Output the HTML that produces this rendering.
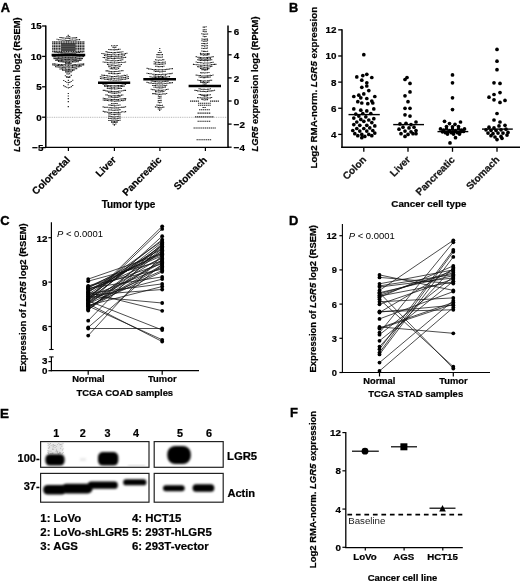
<!DOCTYPE html>
<html><head><meta charset="utf-8"><title>Figure</title>
<style>html,body{margin:0;padding:0;background:#fff}svg{display:block;font-family:"Liberation Sans", Arial, sans-serif}text{stroke:#000;stroke-width:.22px}</style>
</head><body>
<svg width="520" height="585" viewBox="0 0 520 585">
<rect width="520" height="585" fill="#fff"/>
<text x="0.7" y="12.3" font-size="12.8" font-weight="bold" text-anchor="start" fill="#000" style="stroke-width:.4px">A</text>
<text x="289.1" y="12.3" font-size="12.8" font-weight="bold" text-anchor="start" fill="#000" style="stroke-width:.4px">B</text>
<text x="0.2" y="224.5" font-size="12.9" font-weight="bold" text-anchor="start" fill="#000" style="stroke-width:.4px">C</text>
<text x="289.1" y="224.5" font-size="12.9" font-weight="bold" text-anchor="start" fill="#000" style="stroke-width:.4px">D</text>
<text x="0.1" y="418.3" font-size="13.4" font-weight="bold" text-anchor="start" fill="#000" style="stroke-width:.4px">E</text>
<text x="289.9" y="416.5" font-size="13" font-weight="bold" text-anchor="start" fill="#000" style="stroke-width:.4px">F</text>
<line x1="45.8" y1="25.4" x2="45.8" y2="147.9" stroke="#000" stroke-width="1.5"/>
<line x1="45.05" y1="147.4" x2="228.75" y2="147.4" stroke="#000" stroke-width="1.4"/>
<line x1="228.0" y1="25.4" x2="228.0" y2="147.9" stroke="#000" stroke-width="1.5"/>
<line x1="42.099999999999994" y1="26.0" x2="45.8" y2="26.0" stroke="#000" stroke-width="1.3"/>
<text x="41.599999999999994" y="29.4" font-size="9.8" font-weight="bold" text-anchor="end" fill="#000">15</text>
<line x1="42.099999999999994" y1="56.400000000000006" x2="45.8" y2="56.400000000000006" stroke="#000" stroke-width="1.3"/>
<text x="41.599999999999994" y="59.8" font-size="9.8" font-weight="bold" text-anchor="end" fill="#000">10</text>
<line x1="42.099999999999994" y1="86.80000000000001" x2="45.8" y2="86.80000000000001" stroke="#000" stroke-width="1.3"/>
<text x="41.599999999999994" y="90.2" font-size="9.8" font-weight="bold" text-anchor="end" fill="#000">5</text>
<line x1="42.099999999999994" y1="117.2" x2="45.8" y2="117.2" stroke="#000" stroke-width="1.3"/>
<text x="41.599999999999994" y="120.6" font-size="9.8" font-weight="bold" text-anchor="end" fill="#000">0</text>
<line x1="42.099999999999994" y1="147.6" x2="45.8" y2="147.6" stroke="#000" stroke-width="1.3"/>
<text x="43.39999999999999" y="151.0" font-size="9.8" font-weight="bold" text-anchor="end" fill="#000">−5</text>
<line x1="228.0" y1="31.69999999999999" x2="231.6" y2="31.69999999999999" stroke="#000" stroke-width="1.3"/>
<text x="233.8" y="35.4" font-size="9.8" font-weight="bold" text-anchor="start" fill="#000">6</text>
<line x1="228.0" y1="54.8" x2="231.6" y2="54.8" stroke="#000" stroke-width="1.3"/>
<text x="233.8" y="58.5" font-size="9.8" font-weight="bold" text-anchor="start" fill="#000">4</text>
<line x1="228.0" y1="77.9" x2="231.6" y2="77.9" stroke="#000" stroke-width="1.3"/>
<text x="233.8" y="81.6" font-size="9.8" font-weight="bold" text-anchor="start" fill="#000">2</text>
<line x1="228.0" y1="101.0" x2="231.6" y2="101.0" stroke="#000" stroke-width="1.3"/>
<text x="233.8" y="104.7" font-size="9.8" font-weight="bold" text-anchor="start" fill="#000">0</text>
<line x1="228.0" y1="124.1" x2="231.6" y2="124.1" stroke="#000" stroke-width="1.3"/>
<text x="233.8" y="127.8" font-size="9.8" font-weight="bold" text-anchor="start" fill="#000">−2</text>
<line x1="228.0" y1="147.2" x2="231.6" y2="147.2" stroke="#000" stroke-width="1.3"/>
<text x="233.8" y="150.9" font-size="9.8" font-weight="bold" text-anchor="start" fill="#000">−4</text>
<line x1="46.8" y1="117.3" x2="227.0" y2="117.3" stroke="#999" stroke-width="0.7" stroke-dasharray="1 0.8"/>
<line x1="68.4" y1="147.4" x2="68.4" y2="151.0" stroke="#000" stroke-width="1.2"/>
<line x1="114.4" y1="147.4" x2="114.4" y2="151.0" stroke="#000" stroke-width="1.2"/>
<line x1="159.9" y1="147.4" x2="159.9" y2="151.0" stroke="#000" stroke-width="1.2"/>
<line x1="205.4" y1="147.4" x2="205.4" y2="151.0" stroke="#000" stroke-width="1.2"/>
<text x="70.7" y="160.6" font-size="10" font-weight="bold" text-anchor="end" fill="#000" transform="rotate(-45 70.7 160.6)">Colorectal</text>
<text x="116.7" y="160.6" font-size="10" font-weight="bold" text-anchor="end" fill="#000" transform="rotate(-45 116.7 160.6)">Liver</text>
<text x="162.2" y="160.6" font-size="10" font-weight="bold" text-anchor="end" fill="#000" transform="rotate(-45 162.2 160.6)">Pancreatic</text>
<text x="207.7" y="160.6" font-size="10" font-weight="bold" text-anchor="end" fill="#000" transform="rotate(-45 207.7 160.6)">Stomach</text>
<text x="128.5" y="208.4" font-size="10" font-weight="bold" text-anchor="middle" fill="#000">Tumor type</text>
<text x="20.5" y="84.7" font-size="9.36" font-weight="bold" text-anchor="middle" transform="rotate(-90 20.5 84.7)"><tspan font-style="italic">LGR5</tspan> expression log2 (RSEM)</text>
<text x="258" y="84" font-size="9.35" font-weight="bold" text-anchor="middle" transform="rotate(-90 258 84)"><tspan font-style="italic">LGR5</tspan> expression log2 (RPKM)</text>
<path d="M52.19 41.17h1.25v1.25h-1.25zM53.91 41.17h1.25v1.25h-1.25zM55.63 41.17h1.25v1.25h-1.25zM57.35 41.17h1.25v1.25h-1.25zM59.07 41.17h1.25v1.25h-1.25zM60.79 41.17h1.25v1.25h-1.25zM62.52 41.17h1.25v1.25h-1.25zM64.23 41.17h1.25v1.25h-1.25zM65.95 41.17h1.25v1.25h-1.25zM67.67 41.17h1.25v1.25h-1.25zM69.39 41.17h1.25v1.25h-1.25zM71.11 41.17h1.25v1.25h-1.25zM72.83 41.17h1.25v1.25h-1.25zM74.55 41.17h1.25v1.25h-1.25zM76.27 41.17h1.25v1.25h-1.25zM78.00 41.17h1.25v1.25h-1.25zM79.72 41.17h1.25v1.25h-1.25zM81.44 41.17h1.25v1.25h-1.25zM83.16 41.17h1.25v1.25h-1.25zM52.19 42.79h1.25v1.25h-1.25zM53.91 42.79h1.25v1.25h-1.25zM55.63 42.79h1.25v1.25h-1.25zM57.35 42.79h1.25v1.25h-1.25zM59.07 42.79h1.25v1.25h-1.25zM60.79 42.79h1.25v1.25h-1.25zM62.52 42.79h1.25v1.25h-1.25zM64.23 42.79h1.25v1.25h-1.25zM65.95 42.79h1.25v1.25h-1.25zM67.67 42.79h1.25v1.25h-1.25zM69.39 42.79h1.25v1.25h-1.25zM71.11 42.79h1.25v1.25h-1.25zM72.83 42.79h1.25v1.25h-1.25zM74.55 42.79h1.25v1.25h-1.25zM76.27 42.79h1.25v1.25h-1.25zM78.00 42.79h1.25v1.25h-1.25zM79.72 42.79h1.25v1.25h-1.25zM81.44 42.79h1.25v1.25h-1.25zM83.16 42.79h1.25v1.25h-1.25zM52.19 44.41h1.25v1.25h-1.25zM53.91 44.41h1.25v1.25h-1.25zM55.63 44.41h1.25v1.25h-1.25zM57.35 44.41h1.25v1.25h-1.25zM59.07 44.41h1.25v1.25h-1.25zM60.79 44.41h1.25v1.25h-1.25zM62.52 44.41h1.25v1.25h-1.25zM64.23 44.41h1.25v1.25h-1.25zM65.95 44.41h1.25v1.25h-1.25zM67.67 44.41h1.25v1.25h-1.25zM69.39 44.41h1.25v1.25h-1.25zM71.11 44.41h1.25v1.25h-1.25zM72.83 44.41h1.25v1.25h-1.25zM74.55 44.41h1.25v1.25h-1.25zM76.27 44.41h1.25v1.25h-1.25zM78.00 44.41h1.25v1.25h-1.25zM79.72 44.41h1.25v1.25h-1.25zM81.44 44.41h1.25v1.25h-1.25zM83.16 44.41h1.25v1.25h-1.25zM52.19 46.03h1.25v1.25h-1.25zM53.91 46.03h1.25v1.25h-1.25zM55.63 46.03h1.25v1.25h-1.25zM57.35 46.03h1.25v1.25h-1.25zM59.07 46.03h1.25v1.25h-1.25zM60.79 46.03h1.25v1.25h-1.25zM62.52 46.03h1.25v1.25h-1.25zM64.23 46.03h1.25v1.25h-1.25zM65.95 46.03h1.25v1.25h-1.25zM67.67 46.03h1.25v1.25h-1.25zM69.39 46.03h1.25v1.25h-1.25zM71.11 46.03h1.25v1.25h-1.25zM72.83 46.03h1.25v1.25h-1.25zM74.55 46.03h1.25v1.25h-1.25zM76.27 46.03h1.25v1.25h-1.25zM78.00 46.03h1.25v1.25h-1.25zM79.72 46.03h1.25v1.25h-1.25zM81.44 46.03h1.25v1.25h-1.25zM83.16 46.03h1.25v1.25h-1.25zM52.19 47.65h1.25v1.25h-1.25zM53.91 47.65h1.25v1.25h-1.25zM55.63 47.65h1.25v1.25h-1.25zM57.35 47.65h1.25v1.25h-1.25zM59.07 47.65h1.25v1.25h-1.25zM60.79 47.65h1.25v1.25h-1.25zM62.52 47.65h1.25v1.25h-1.25zM64.23 47.65h1.25v1.25h-1.25zM65.95 47.65h1.25v1.25h-1.25zM67.67 47.65h1.25v1.25h-1.25zM69.39 47.65h1.25v1.25h-1.25zM71.11 47.65h1.25v1.25h-1.25zM72.83 47.65h1.25v1.25h-1.25zM74.55 47.65h1.25v1.25h-1.25zM76.27 47.65h1.25v1.25h-1.25zM78.00 47.65h1.25v1.25h-1.25zM79.72 47.65h1.25v1.25h-1.25zM81.44 47.65h1.25v1.25h-1.25zM83.16 47.65h1.25v1.25h-1.25zM52.19 49.27h1.25v1.25h-1.25zM53.91 49.27h1.25v1.25h-1.25zM55.63 49.27h1.25v1.25h-1.25zM57.35 49.27h1.25v1.25h-1.25zM59.07 49.27h1.25v1.25h-1.25zM60.79 49.27h1.25v1.25h-1.25zM62.52 49.27h1.25v1.25h-1.25zM64.23 49.27h1.25v1.25h-1.25zM65.95 49.27h1.25v1.25h-1.25zM67.67 49.27h1.25v1.25h-1.25zM69.39 49.27h1.25v1.25h-1.25zM71.11 49.27h1.25v1.25h-1.25zM72.83 49.27h1.25v1.25h-1.25zM74.55 49.27h1.25v1.25h-1.25zM76.27 49.27h1.25v1.25h-1.25zM78.00 49.27h1.25v1.25h-1.25zM79.72 49.27h1.25v1.25h-1.25zM81.44 49.27h1.25v1.25h-1.25zM83.16 49.27h1.25v1.25h-1.25zM52.19 50.89h1.25v1.25h-1.25zM53.91 50.89h1.25v1.25h-1.25zM55.63 50.89h1.25v1.25h-1.25zM57.35 50.89h1.25v1.25h-1.25zM59.07 50.89h1.25v1.25h-1.25zM60.79 50.89h1.25v1.25h-1.25zM62.52 50.89h1.25v1.25h-1.25zM64.23 50.89h1.25v1.25h-1.25zM65.95 50.89h1.25v1.25h-1.25zM67.67 50.89h1.25v1.25h-1.25zM69.39 50.89h1.25v1.25h-1.25zM71.11 50.89h1.25v1.25h-1.25zM72.83 50.89h1.25v1.25h-1.25zM74.55 50.89h1.25v1.25h-1.25zM76.27 50.89h1.25v1.25h-1.25zM78.00 50.89h1.25v1.25h-1.25zM79.72 50.89h1.25v1.25h-1.25zM81.44 50.89h1.25v1.25h-1.25zM83.16 50.89h1.25v1.25h-1.25z" fill="#222" fill-opacity="1"/>
<rect x="61" y="43.2" width="14.4" height="7.8" fill="#333"/>
<path d="M61 44.9h14.4M61 46.6h14.4M61 48.3h14.4M61 50h14.4" stroke="#888" stroke-width="0.45"/>
<path d="M60.5 53.2h15.5M53 57h30.5M53.5 58.6h29.5M55 60.3h26.5" stroke="#111" stroke-width="1.1" stroke-opacity="0.55"/>
<path d="M67.68 34.80h1.1v1.1h-1.1zM66.26 36.22h1.1v1.1h-1.1zM67.72 36.34h1.1v1.1h-1.1zM69.15 35.99h1.1v1.1h-1.1zM59.34 36.91h1.1v1.1h-1.1zM60.67 37.09h1.1v1.1h-1.1zM62.22 37.37h1.1v1.1h-1.1zM63.49 37.38h1.1v1.1h-1.1zM65.04 37.68h1.1v1.1h-1.1zM66.33 37.73h1.1v1.1h-1.1zM67.66 37.93h1.1v1.1h-1.1zM69.11 37.84h1.1v1.1h-1.1zM70.47 37.49h1.1v1.1h-1.1zM72.01 37.45h1.1v1.1h-1.1zM73.37 37.28h1.1v1.1h-1.1zM74.72 37.32h1.1v1.1h-1.1zM76.06 37.12h1.1v1.1h-1.1zM56.49 38.77h1.1v1.1h-1.1zM57.94 39.19h1.1v1.1h-1.1zM59.37 39.21h1.1v1.1h-1.1zM60.71 39.41h1.1v1.1h-1.1zM62.19 39.68h1.1v1.1h-1.1zM63.56 39.57h1.1v1.1h-1.1zM65.03 39.77h1.1v1.1h-1.1zM66.31 39.92h1.1v1.1h-1.1zM67.67 40.06h1.1v1.1h-1.1zM69.20 39.80h1.1v1.1h-1.1zM70.55 39.62h1.1v1.1h-1.1zM71.98 39.49h1.1v1.1h-1.1zM73.36 39.67h1.1v1.1h-1.1zM74.71 39.58h1.1v1.1h-1.1zM76.17 39.36h1.1v1.1h-1.1zM77.54 39.15h1.1v1.1h-1.1zM79.04 39.08h1.1v1.1h-1.1zM53.78 51.52h1.1v1.1h-1.1zM55.19 51.53h1.1v1.1h-1.1zM56.65 51.93h1.1v1.1h-1.1zM57.91 52.15h1.1v1.1h-1.1zM59.38 52.11h1.1v1.1h-1.1zM60.74 52.09h1.1v1.1h-1.1zM62.07 52.26h1.1v1.1h-1.1zM63.60 52.31h1.1v1.1h-1.1zM64.90 52.42h1.1v1.1h-1.1zM66.42 52.58h1.1v1.1h-1.1zM67.74 52.49h1.1v1.1h-1.1zM69.23 52.65h1.1v1.1h-1.1zM70.62 52.70h1.1v1.1h-1.1zM71.93 52.40h1.1v1.1h-1.1zM73.43 52.34h1.1v1.1h-1.1zM74.68 52.47h1.1v1.1h-1.1zM76.10 52.03h1.1v1.1h-1.1zM77.55 51.91h1.1v1.1h-1.1zM78.90 51.91h1.1v1.1h-1.1zM80.33 51.51h1.1v1.1h-1.1zM81.76 51.48h1.1v1.1h-1.1zM52.39 55.97h1.1v1.1h-1.1zM53.77 55.97h1.1v1.1h-1.1zM55.06 56.19h1.1v1.1h-1.1zM56.61 56.43h1.1v1.1h-1.1zM58.01 56.56h1.1v1.1h-1.1zM59.33 56.49h1.1v1.1h-1.1zM60.78 56.49h1.1v1.1h-1.1zM62.06 56.58h1.1v1.1h-1.1zM63.48 56.72h1.1v1.1h-1.1zM64.86 56.85h1.1v1.1h-1.1zM66.28 56.76h1.1v1.1h-1.1zM67.72 56.83h1.1v1.1h-1.1zM69.22 56.77h1.1v1.1h-1.1zM70.48 56.96h1.1v1.1h-1.1zM71.92 56.74h1.1v1.1h-1.1zM73.27 56.70h1.1v1.1h-1.1zM74.85 56.79h1.1v1.1h-1.1zM76.15 56.52h1.1v1.1h-1.1zM77.47 56.24h1.1v1.1h-1.1zM78.90 56.21h1.1v1.1h-1.1zM80.28 56.25h1.1v1.1h-1.1zM81.84 55.77h1.1v1.1h-1.1zM83.08 55.80h1.1v1.1h-1.1zM53.66 57.83h1.1v1.1h-1.1zM55.25 58.00h1.1v1.1h-1.1zM56.59 58.31h1.1v1.1h-1.1zM57.92 58.22h1.1v1.1h-1.1zM59.40 58.33h1.1v1.1h-1.1zM60.81 58.60h1.1v1.1h-1.1zM62.09 58.64h1.1v1.1h-1.1zM63.65 58.93h1.1v1.1h-1.1zM65.01 59.02h1.1v1.1h-1.1zM66.40 59.07h1.1v1.1h-1.1zM67.75 58.86h1.1v1.1h-1.1zM69.06 58.89h1.1v1.1h-1.1zM70.51 58.69h1.1v1.1h-1.1zM71.99 58.71h1.1v1.1h-1.1zM73.34 58.89h1.1v1.1h-1.1zM74.85 58.76h1.1v1.1h-1.1zM76.12 58.64h1.1v1.1h-1.1zM77.50 58.20h1.1v1.1h-1.1zM78.89 58.04h1.1v1.1h-1.1zM80.43 58.04h1.1v1.1h-1.1zM81.75 57.95h1.1v1.1h-1.1zM55.21 59.64h1.1v1.1h-1.1zM56.58 59.59h1.1v1.1h-1.1zM58.01 60.09h1.1v1.1h-1.1zM59.35 60.17h1.1v1.1h-1.1zM60.81 60.08h1.1v1.1h-1.1zM62.21 60.27h1.1v1.1h-1.1zM63.53 60.63h1.1v1.1h-1.1zM65.04 60.48h1.1v1.1h-1.1zM66.28 60.68h1.1v1.1h-1.1zM67.68 60.47h1.1v1.1h-1.1zM69.21 60.75h1.1v1.1h-1.1zM70.62 60.38h1.1v1.1h-1.1zM71.98 60.63h1.1v1.1h-1.1zM73.36 60.27h1.1v1.1h-1.1zM74.65 60.06h1.1v1.1h-1.1zM76.18 60.26h1.1v1.1h-1.1zM77.64 59.93h1.1v1.1h-1.1zM79.02 59.73h1.1v1.1h-1.1zM80.29 59.71h1.1v1.1h-1.1zM57.91 60.91h1.1v1.1h-1.1zM59.37 61.08h1.1v1.1h-1.1zM60.73 61.25h1.1v1.1h-1.1zM62.23 61.34h1.1v1.1h-1.1zM63.54 61.55h1.1v1.1h-1.1zM65.03 61.74h1.1v1.1h-1.1zM66.43 61.74h1.1v1.1h-1.1zM67.76 61.81h1.1v1.1h-1.1zM69.05 61.78h1.1v1.1h-1.1zM70.49 61.68h1.1v1.1h-1.1zM72.01 61.41h1.1v1.1h-1.1zM73.34 61.35h1.1v1.1h-1.1zM74.76 61.43h1.1v1.1h-1.1zM76.15 61.12h1.1v1.1h-1.1zM77.61 61.03h1.1v1.1h-1.1zM64.96 62.56h1.1v1.1h-1.1zM66.31 62.78h1.1v1.1h-1.1zM67.75 63.07h1.1v1.1h-1.1zM69.20 62.90h1.1v1.1h-1.1zM70.54 62.88h1.1v1.1h-1.1zM52.35 63.24h1.1v1.1h-1.1zM53.79 63.36h1.1v1.1h-1.1zM55.16 63.50h1.1v1.1h-1.1zM56.64 63.66h1.1v1.1h-1.1zM58.03 63.89h1.1v1.1h-1.1zM59.30 64.11h1.1v1.1h-1.1zM60.84 64.07h1.1v1.1h-1.1zM62.08 64.29h1.1v1.1h-1.1zM63.54 64.09h1.1v1.1h-1.1zM64.90 64.14h1.1v1.1h-1.1zM66.38 64.19h1.1v1.1h-1.1zM67.83 64.50h1.1v1.1h-1.1zM69.19 64.23h1.1v1.1h-1.1zM70.48 64.38h1.1v1.1h-1.1zM72.04 64.39h1.1v1.1h-1.1zM73.44 64.04h1.1v1.1h-1.1zM74.75 64.01h1.1v1.1h-1.1zM76.22 64.13h1.1v1.1h-1.1zM77.54 63.67h1.1v1.1h-1.1zM78.92 63.68h1.1v1.1h-1.1zM80.31 63.40h1.1v1.1h-1.1zM81.65 63.45h1.1v1.1h-1.1zM83.14 63.21h1.1v1.1h-1.1zM52.32 64.30h1.1v1.1h-1.1zM53.75 64.71h1.1v1.1h-1.1zM55.25 64.65h1.1v1.1h-1.1zM56.64 65.08h1.1v1.1h-1.1zM57.90 64.95h1.1v1.1h-1.1zM59.41 65.05h1.1v1.1h-1.1zM60.68 65.26h1.1v1.1h-1.1zM62.23 65.42h1.1v1.1h-1.1zM63.50 65.67h1.1v1.1h-1.1zM65.03 65.47h1.1v1.1h-1.1zM66.39 65.69h1.1v1.1h-1.1zM67.66 65.53h1.1v1.1h-1.1zM69.14 65.74h1.1v1.1h-1.1zM70.64 65.44h1.1v1.1h-1.1zM72.01 65.59h1.1v1.1h-1.1zM73.42 65.29h1.1v1.1h-1.1zM74.82 65.18h1.1v1.1h-1.1zM76.12 65.22h1.1v1.1h-1.1zM77.64 65.13h1.1v1.1h-1.1zM78.88 64.88h1.1v1.1h-1.1zM80.30 64.83h1.1v1.1h-1.1zM81.68 64.50h1.1v1.1h-1.1zM83.09 64.31h1.1v1.1h-1.1zM55.11 66.10h1.1v1.1h-1.1zM56.51 66.46h1.1v1.1h-1.1zM57.89 66.52h1.1v1.1h-1.1zM59.25 66.61h1.1v1.1h-1.1zM60.65 66.71h1.1v1.1h-1.1zM62.16 67.03h1.1v1.1h-1.1zM63.54 66.91h1.1v1.1h-1.1zM64.87 67.30h1.1v1.1h-1.1zM66.34 67.31h1.1v1.1h-1.1zM67.82 67.22h1.1v1.1h-1.1zM69.15 67.14h1.1v1.1h-1.1zM70.65 67.20h1.1v1.1h-1.1zM72.02 66.98h1.1v1.1h-1.1zM73.38 67.02h1.1v1.1h-1.1zM74.72 66.77h1.1v1.1h-1.1zM76.08 66.50h1.1v1.1h-1.1zM77.60 66.35h1.1v1.1h-1.1zM78.88 66.26h1.1v1.1h-1.1zM80.42 66.01h1.1v1.1h-1.1zM59.38 68.40h1.1v1.1h-1.1zM60.70 68.35h1.1v1.1h-1.1zM62.14 68.51h1.1v1.1h-1.1zM63.54 68.60h1.1v1.1h-1.1zM65.04 68.76h1.1v1.1h-1.1zM66.36 69.12h1.1v1.1h-1.1zM67.84 68.87h1.1v1.1h-1.1zM69.12 68.86h1.1v1.1h-1.1zM70.53 68.65h1.1v1.1h-1.1zM71.95 68.73h1.1v1.1h-1.1zM73.35 68.48h1.1v1.1h-1.1zM74.70 68.24h1.1v1.1h-1.1zM76.13 68.09h1.1v1.1h-1.1zM62.05 69.60h1.1v1.1h-1.1zM63.50 69.88h1.1v1.1h-1.1zM64.96 70.14h1.1v1.1h-1.1zM66.38 70.31h1.1v1.1h-1.1zM67.83 70.35h1.1v1.1h-1.1zM69.12 70.17h1.1v1.1h-1.1zM70.48 70.30h1.1v1.1h-1.1zM71.98 70.05h1.1v1.1h-1.1zM73.42 69.60h1.1v1.1h-1.1zM64.98 71.45h1.1v1.1h-1.1zM66.41 71.58h1.1v1.1h-1.1zM67.75 71.43h1.1v1.1h-1.1zM69.22 71.49h1.1v1.1h-1.1zM70.62 71.42h1.1v1.1h-1.1zM66.43 73.34h1.1v1.1h-1.1zM67.79 73.46h1.1v1.1h-1.1zM69.06 73.20h1.1v1.1h-1.1zM66.32 76.84h1.1v1.1h-1.1zM67.82 76.95h1.1v1.1h-1.1zM69.18 77.01h1.1v1.1h-1.1zM67.79 79.82h1.1v1.1h-1.1zM67.65 84.17h1.1v1.1h-1.1z" fill="#1c1c1c" fill-opacity="1"/>
<path d="M64.80 75.13h1.1v1.1h-1.1zM66.26 75.91h1.1v1.1h-1.1zM67.66 76.42h1.1v1.1h-1.1zM69.20 76.01h1.1v1.1h-1.1zM70.70 74.84h1.1v1.1h-1.1zM63.19 79.90h1.1v1.1h-1.1zM64.85 80.98h1.1v1.1h-1.1zM66.23 81.67h1.1v1.1h-1.1zM67.79 82.05h1.1v1.1h-1.1zM69.27 81.78h1.1v1.1h-1.1zM70.67 80.94h1.1v1.1h-1.1zM72.20 79.67h1.1v1.1h-1.1zM63.21 85.11h1.1v1.1h-1.1zM64.65 86.11h1.1v1.1h-1.1zM66.20 86.70h1.1v1.1h-1.1zM67.79 87.33h1.1v1.1h-1.1zM69.21 86.94h1.1v1.1h-1.1zM70.74 86.09h1.1v1.1h-1.1zM72.17 85.00h1.1v1.1h-1.1z" fill="#1c1c1c" fill-opacity="1"/>
<path d="M67.70 92.90h1.2v1.2h-1.2zM67.70 95.40h1.2v1.2h-1.2zM67.70 98.00h1.2v1.2h-1.2zM67.70 101.10h1.2v1.2h-1.2zM67.70 106.10h1.2v1.2h-1.2z" fill="#1c1c1c" fill-opacity="1"/>
<line x1="51.6" y1="55.0" x2="85.2" y2="55.0" stroke="#000" stroke-width="2.5"/>
<path d="M110.99 45.20h1.1v1.1h-1.1zM112.54 45.49h1.1v1.1h-1.1zM113.84 45.23h1.1v1.1h-1.1zM115.34 45.42h1.1v1.1h-1.1zM116.60 45.02h1.1v1.1h-1.1zM112.54 46.91h1.1v1.1h-1.1zM113.87 47.13h1.1v1.1h-1.1zM115.25 46.89h1.1v1.1h-1.1zM108.18 48.93h1.1v1.1h-1.1zM109.65 49.08h1.1v1.1h-1.1zM111.09 49.27h1.1v1.1h-1.1zM112.53 49.13h1.1v1.1h-1.1zM113.75 49.29h1.1v1.1h-1.1zM115.25 49.04h1.1v1.1h-1.1zM116.61 49.10h1.1v1.1h-1.1zM118.02 48.81h1.1v1.1h-1.1zM119.52 48.67h1.1v1.1h-1.1zM105.50 51.04h1.1v1.1h-1.1zM106.77 51.61h1.1v1.1h-1.1zM108.29 51.85h1.1v1.1h-1.1zM109.61 52.02h1.1v1.1h-1.1zM111.03 51.96h1.1v1.1h-1.1zM112.47 52.32h1.1v1.1h-1.1zM113.84 52.12h1.1v1.1h-1.1zM115.16 52.03h1.1v1.1h-1.1zM116.72 51.85h1.1v1.1h-1.1zM118.14 51.78h1.1v1.1h-1.1zM119.40 51.58h1.1v1.1h-1.1zM120.79 51.48h1.1v1.1h-1.1zM122.34 51.19h1.1v1.1h-1.1zM101.31 53.02h1.1v1.1h-1.1zM102.73 53.16h1.1v1.1h-1.1zM104.06 53.51h1.1v1.1h-1.1zM105.36 53.63h1.1v1.1h-1.1zM106.84 53.83h1.1v1.1h-1.1zM108.28 54.00h1.1v1.1h-1.1zM109.56 53.96h1.1v1.1h-1.1zM110.98 54.34h1.1v1.1h-1.1zM112.42 54.24h1.1v1.1h-1.1zM113.90 54.21h1.1v1.1h-1.1zM115.20 54.44h1.1v1.1h-1.1zM116.61 54.23h1.1v1.1h-1.1zM118.03 54.07h1.1v1.1h-1.1zM119.38 53.77h1.1v1.1h-1.1zM120.93 53.62h1.1v1.1h-1.1zM122.19 53.54h1.1v1.1h-1.1zM123.75 53.50h1.1v1.1h-1.1zM124.98 53.09h1.1v1.1h-1.1zM126.37 52.74h1.1v1.1h-1.1zM103.97 54.98h1.1v1.1h-1.1zM105.40 55.18h1.1v1.1h-1.1zM106.93 55.53h1.1v1.1h-1.1zM108.23 55.80h1.1v1.1h-1.1zM109.65 55.83h1.1v1.1h-1.1zM111.02 55.95h1.1v1.1h-1.1zM112.41 55.92h1.1v1.1h-1.1zM113.78 56.33h1.1v1.1h-1.1zM115.28 56.10h1.1v1.1h-1.1zM116.59 56.14h1.1v1.1h-1.1zM118.00 55.77h1.1v1.1h-1.1zM119.44 55.66h1.1v1.1h-1.1zM120.92 55.68h1.1v1.1h-1.1zM122.15 55.43h1.1v1.1h-1.1zM123.69 54.86h1.1v1.1h-1.1zM102.64 56.97h1.1v1.1h-1.1zM103.95 57.07h1.1v1.1h-1.1zM105.54 57.20h1.1v1.1h-1.1zM106.92 57.56h1.1v1.1h-1.1zM108.20 57.78h1.1v1.1h-1.1zM109.58 57.57h1.1v1.1h-1.1zM111.09 57.85h1.1v1.1h-1.1zM112.49 58.10h1.1v1.1h-1.1zM113.90 58.03h1.1v1.1h-1.1zM115.26 57.91h1.1v1.1h-1.1zM116.71 57.66h1.1v1.1h-1.1zM118.13 57.62h1.1v1.1h-1.1zM119.41 57.65h1.1v1.1h-1.1zM120.80 57.28h1.1v1.1h-1.1zM122.29 57.30h1.1v1.1h-1.1zM123.56 56.88h1.1v1.1h-1.1zM125.07 56.82h1.1v1.1h-1.1zM105.39 59.29h1.1v1.1h-1.1zM106.75 59.61h1.1v1.1h-1.1zM108.24 59.70h1.1v1.1h-1.1zM109.68 60.15h1.1v1.1h-1.1zM111.05 60.26h1.1v1.1h-1.1zM112.40 60.11h1.1v1.1h-1.1zM113.89 60.45h1.1v1.1h-1.1zM115.15 60.14h1.1v1.1h-1.1zM116.68 60.11h1.1v1.1h-1.1zM118.00 59.93h1.1v1.1h-1.1zM119.54 59.85h1.1v1.1h-1.1zM120.76 59.46h1.1v1.1h-1.1zM122.23 59.27h1.1v1.1h-1.1zM102.59 61.39h1.1v1.1h-1.1zM104.10 61.66h1.1v1.1h-1.1zM105.39 61.74h1.1v1.1h-1.1zM106.81 62.11h1.1v1.1h-1.1zM108.20 62.22h1.1v1.1h-1.1zM109.70 62.12h1.1v1.1h-1.1zM111.14 62.26h1.1v1.1h-1.1zM112.39 62.43h1.1v1.1h-1.1zM113.83 62.36h1.1v1.1h-1.1zM115.34 62.49h1.1v1.1h-1.1zM116.63 62.20h1.1v1.1h-1.1zM118.14 62.11h1.1v1.1h-1.1zM119.36 61.95h1.1v1.1h-1.1zM120.83 61.75h1.1v1.1h-1.1zM122.33 61.90h1.1v1.1h-1.1zM123.75 61.63h1.1v1.1h-1.1zM125.02 61.49h1.1v1.1h-1.1zM106.94 63.93h1.1v1.1h-1.1zM108.16 64.37h1.1v1.1h-1.1zM109.63 64.52h1.1v1.1h-1.1zM111.02 64.56h1.1v1.1h-1.1zM112.35 64.59h1.1v1.1h-1.1zM113.82 64.68h1.1v1.1h-1.1zM115.17 64.90h1.1v1.1h-1.1zM116.59 64.79h1.1v1.1h-1.1zM118.11 64.40h1.1v1.1h-1.1zM119.44 64.40h1.1v1.1h-1.1zM120.84 63.88h1.1v1.1h-1.1zM108.33 66.04h1.1v1.1h-1.1zM109.62 66.21h1.1v1.1h-1.1zM110.96 66.69h1.1v1.1h-1.1zM112.51 66.64h1.1v1.1h-1.1zM113.76 66.85h1.1v1.1h-1.1zM115.16 66.49h1.1v1.1h-1.1zM116.60 66.70h1.1v1.1h-1.1zM118.13 66.43h1.1v1.1h-1.1zM119.40 66.02h1.1v1.1h-1.1zM109.67 68.19h1.1v1.1h-1.1zM111.09 68.12h1.1v1.1h-1.1zM112.41 68.30h1.1v1.1h-1.1zM113.90 68.25h1.1v1.1h-1.1zM115.28 68.54h1.1v1.1h-1.1zM116.55 68.40h1.1v1.1h-1.1zM118.05 67.90h1.1v1.1h-1.1zM105.54 70.32h1.1v1.1h-1.1zM106.80 70.33h1.1v1.1h-1.1zM108.25 70.55h1.1v1.1h-1.1zM109.59 70.93h1.1v1.1h-1.1zM111.10 71.03h1.1v1.1h-1.1zM112.50 71.15h1.1v1.1h-1.1zM113.82 71.11h1.1v1.1h-1.1zM115.22 70.95h1.1v1.1h-1.1zM116.57 71.02h1.1v1.1h-1.1zM118.10 70.64h1.1v1.1h-1.1zM119.36 70.48h1.1v1.1h-1.1zM120.86 70.19h1.1v1.1h-1.1zM122.35 70.07h1.1v1.1h-1.1zM108.35 72.80h1.1v1.1h-1.1zM109.57 72.76h1.1v1.1h-1.1zM111.05 72.85h1.1v1.1h-1.1zM112.44 73.22h1.1v1.1h-1.1zM113.83 73.09h1.1v1.1h-1.1zM115.28 73.19h1.1v1.1h-1.1zM116.72 73.12h1.1v1.1h-1.1zM117.97 72.92h1.1v1.1h-1.1zM119.41 72.78h1.1v1.1h-1.1zM101.22 74.49h1.1v1.1h-1.1zM102.59 74.80h1.1v1.1h-1.1zM104.00 74.84h1.1v1.1h-1.1zM105.53 75.01h1.1v1.1h-1.1zM106.82 75.37h1.1v1.1h-1.1zM108.35 75.46h1.1v1.1h-1.1zM109.60 75.65h1.1v1.1h-1.1zM111.08 75.89h1.1v1.1h-1.1zM112.37 76.05h1.1v1.1h-1.1zM113.91 75.88h1.1v1.1h-1.1zM115.33 75.99h1.1v1.1h-1.1zM116.61 75.58h1.1v1.1h-1.1zM117.99 75.49h1.1v1.1h-1.1zM119.47 75.69h1.1v1.1h-1.1zM120.82 75.51h1.1v1.1h-1.1zM122.24 75.29h1.1v1.1h-1.1zM123.71 74.84h1.1v1.1h-1.1zM124.97 74.89h1.1v1.1h-1.1zM126.47 74.50h1.1v1.1h-1.1zM99.82 76.19h1.1v1.1h-1.1zM101.19 76.40h1.1v1.1h-1.1zM102.67 76.67h1.1v1.1h-1.1zM103.99 77.03h1.1v1.1h-1.1zM105.42 76.97h1.1v1.1h-1.1zM106.79 77.41h1.1v1.1h-1.1zM108.19 77.41h1.1v1.1h-1.1zM109.66 77.74h1.1v1.1h-1.1zM110.97 77.55h1.1v1.1h-1.1zM112.46 77.76h1.1v1.1h-1.1zM113.77 77.90h1.1v1.1h-1.1zM115.29 77.67h1.1v1.1h-1.1zM116.61 77.69h1.1v1.1h-1.1zM118.14 77.54h1.1v1.1h-1.1zM119.46 77.41h1.1v1.1h-1.1zM120.83 77.28h1.1v1.1h-1.1zM122.35 77.31h1.1v1.1h-1.1zM123.59 76.92h1.1v1.1h-1.1zM124.99 76.86h1.1v1.1h-1.1zM126.53 76.34h1.1v1.1h-1.1zM127.91 76.27h1.1v1.1h-1.1zM99.93 77.97h1.1v1.1h-1.1zM101.18 78.23h1.1v1.1h-1.1zM102.66 78.27h1.1v1.1h-1.1zM104.13 78.73h1.1v1.1h-1.1zM105.47 78.70h1.1v1.1h-1.1zM106.85 78.98h1.1v1.1h-1.1zM108.21 79.05h1.1v1.1h-1.1zM109.74 79.33h1.1v1.1h-1.1zM111.05 79.27h1.1v1.1h-1.1zM112.54 79.63h1.1v1.1h-1.1zM113.78 79.42h1.1v1.1h-1.1zM115.35 79.68h1.1v1.1h-1.1zM116.56 79.42h1.1v1.1h-1.1zM118.03 79.49h1.1v1.1h-1.1zM119.47 79.35h1.1v1.1h-1.1zM120.78 79.16h1.1v1.1h-1.1zM122.19 78.98h1.1v1.1h-1.1zM123.72 78.63h1.1v1.1h-1.1zM124.99 78.60h1.1v1.1h-1.1zM126.43 78.13h1.1v1.1h-1.1zM127.83 78.01h1.1v1.1h-1.1zM102.60 83.96h1.1v1.1h-1.1zM104.13 84.43h1.1v1.1h-1.1zM105.46 84.36h1.1v1.1h-1.1zM106.76 84.83h1.1v1.1h-1.1zM108.17 85.02h1.1v1.1h-1.1zM109.66 85.07h1.1v1.1h-1.1zM111.01 85.19h1.1v1.1h-1.1zM112.47 85.20h1.1v1.1h-1.1zM113.88 85.24h1.1v1.1h-1.1zM115.24 85.21h1.1v1.1h-1.1zM116.67 84.95h1.1v1.1h-1.1zM118.00 85.03h1.1v1.1h-1.1zM119.51 84.99h1.1v1.1h-1.1zM120.79 84.71h1.1v1.1h-1.1zM122.17 84.53h1.1v1.1h-1.1zM123.64 84.19h1.1v1.1h-1.1zM125.04 83.95h1.1v1.1h-1.1zM103.96 85.58h1.1v1.1h-1.1zM105.37 85.86h1.1v1.1h-1.1zM106.91 86.10h1.1v1.1h-1.1zM108.16 86.20h1.1v1.1h-1.1zM109.63 86.35h1.1v1.1h-1.1zM110.98 86.66h1.1v1.1h-1.1zM112.55 86.72h1.1v1.1h-1.1zM113.91 86.71h1.1v1.1h-1.1zM115.35 86.45h1.1v1.1h-1.1zM116.74 86.48h1.1v1.1h-1.1zM117.98 86.52h1.1v1.1h-1.1zM119.54 86.31h1.1v1.1h-1.1zM120.82 85.84h1.1v1.1h-1.1zM122.18 85.91h1.1v1.1h-1.1zM123.60 85.73h1.1v1.1h-1.1zM106.78 87.85h1.1v1.1h-1.1zM108.33 87.96h1.1v1.1h-1.1zM109.60 88.04h1.1v1.1h-1.1zM111.01 88.32h1.1v1.1h-1.1zM112.39 88.25h1.1v1.1h-1.1zM113.94 88.36h1.1v1.1h-1.1zM115.33 88.51h1.1v1.1h-1.1zM116.71 88.19h1.1v1.1h-1.1zM118.06 88.00h1.1v1.1h-1.1zM119.42 88.01h1.1v1.1h-1.1zM120.86 87.88h1.1v1.1h-1.1zM102.73 89.82h1.1v1.1h-1.1zM104.15 89.86h1.1v1.1h-1.1zM105.43 90.28h1.1v1.1h-1.1zM106.80 90.54h1.1v1.1h-1.1zM108.27 90.79h1.1v1.1h-1.1zM109.70 90.69h1.1v1.1h-1.1zM110.99 90.84h1.1v1.1h-1.1zM112.36 91.05h1.1v1.1h-1.1zM113.80 91.12h1.1v1.1h-1.1zM115.35 91.01h1.1v1.1h-1.1zM116.68 90.90h1.1v1.1h-1.1zM117.95 90.67h1.1v1.1h-1.1zM119.38 90.41h1.1v1.1h-1.1zM120.84 90.47h1.1v1.1h-1.1zM122.33 90.24h1.1v1.1h-1.1zM123.60 89.87h1.1v1.1h-1.1zM124.95 89.85h1.1v1.1h-1.1zM108.22 91.89h1.1v1.1h-1.1zM109.62 92.17h1.1v1.1h-1.1zM111.07 92.42h1.1v1.1h-1.1zM112.39 92.71h1.1v1.1h-1.1zM113.84 92.80h1.1v1.1h-1.1zM115.34 92.53h1.1v1.1h-1.1zM116.58 92.43h1.1v1.1h-1.1zM118.08 92.17h1.1v1.1h-1.1zM119.51 92.24h1.1v1.1h-1.1zM105.40 94.37h1.1v1.1h-1.1zM106.88 94.46h1.1v1.1h-1.1zM108.22 94.90h1.1v1.1h-1.1zM109.64 95.13h1.1v1.1h-1.1zM111.10 95.40h1.1v1.1h-1.1zM112.53 95.24h1.1v1.1h-1.1zM113.86 95.21h1.1v1.1h-1.1zM115.20 95.30h1.1v1.1h-1.1zM116.71 95.05h1.1v1.1h-1.1zM118.06 94.87h1.1v1.1h-1.1zM119.38 95.05h1.1v1.1h-1.1zM120.87 94.54h1.1v1.1h-1.1zM122.28 94.41h1.1v1.1h-1.1zM108.18 96.44h1.1v1.1h-1.1zM109.61 96.46h1.1v1.1h-1.1zM111.13 96.54h1.1v1.1h-1.1zM112.49 96.97h1.1v1.1h-1.1zM113.92 96.72h1.1v1.1h-1.1zM115.24 96.95h1.1v1.1h-1.1zM116.64 96.82h1.1v1.1h-1.1zM117.97 96.43h1.1v1.1h-1.1zM119.36 96.21h1.1v1.1h-1.1zM102.70 97.75h1.1v1.1h-1.1zM104.12 98.11h1.1v1.1h-1.1zM105.40 98.33h1.1v1.1h-1.1zM106.84 98.45h1.1v1.1h-1.1zM108.25 98.70h1.1v1.1h-1.1zM109.68 98.64h1.1v1.1h-1.1zM110.99 99.03h1.1v1.1h-1.1zM112.35 99.08h1.1v1.1h-1.1zM113.80 98.87h1.1v1.1h-1.1zM115.34 99.03h1.1v1.1h-1.1zM116.62 98.94h1.1v1.1h-1.1zM118.02 98.88h1.1v1.1h-1.1zM119.53 98.48h1.1v1.1h-1.1zM120.89 98.48h1.1v1.1h-1.1zM122.35 98.31h1.1v1.1h-1.1zM123.72 98.02h1.1v1.1h-1.1zM125.12 97.89h1.1v1.1h-1.1zM102.69 99.49h1.1v1.1h-1.1zM104.01 99.77h1.1v1.1h-1.1zM105.47 99.83h1.1v1.1h-1.1zM106.93 99.96h1.1v1.1h-1.1zM108.16 100.15h1.1v1.1h-1.1zM109.74 100.27h1.1v1.1h-1.1zM110.98 100.48h1.1v1.1h-1.1zM112.36 100.44h1.1v1.1h-1.1zM113.88 100.75h1.1v1.1h-1.1zM115.30 100.71h1.1v1.1h-1.1zM116.67 100.37h1.1v1.1h-1.1zM118.11 100.37h1.1v1.1h-1.1zM119.53 100.42h1.1v1.1h-1.1zM120.92 99.95h1.1v1.1h-1.1zM122.34 100.11h1.1v1.1h-1.1zM123.59 99.58h1.1v1.1h-1.1zM124.96 99.36h1.1v1.1h-1.1zM111.11 103.01h1.1v1.1h-1.1zM112.52 103.14h1.1v1.1h-1.1zM113.81 103.25h1.1v1.1h-1.1zM115.17 102.93h1.1v1.1h-1.1zM116.59 102.97h1.1v1.1h-1.1zM108.23 104.48h1.1v1.1h-1.1zM109.60 104.56h1.1v1.1h-1.1zM111.09 104.83h1.1v1.1h-1.1zM112.41 104.98h1.1v1.1h-1.1zM113.85 105.28h1.1v1.1h-1.1zM115.27 105.18h1.1v1.1h-1.1zM116.63 104.73h1.1v1.1h-1.1zM118.10 104.72h1.1v1.1h-1.1zM119.49 104.49h1.1v1.1h-1.1zM102.59 106.30h1.1v1.1h-1.1zM103.97 106.66h1.1v1.1h-1.1zM105.38 106.86h1.1v1.1h-1.1zM106.79 106.72h1.1v1.1h-1.1zM108.35 107.20h1.1v1.1h-1.1zM109.65 107.04h1.1v1.1h-1.1zM111.11 107.36h1.1v1.1h-1.1zM112.45 107.32h1.1v1.1h-1.1zM113.92 107.43h1.1v1.1h-1.1zM115.34 107.36h1.1v1.1h-1.1zM116.59 107.28h1.1v1.1h-1.1zM118.05 107.32h1.1v1.1h-1.1zM119.48 106.94h1.1v1.1h-1.1zM120.91 106.76h1.1v1.1h-1.1zM122.31 106.81h1.1v1.1h-1.1zM123.62 106.57h1.1v1.1h-1.1zM125.03 106.25h1.1v1.1h-1.1zM108.17 109.30h1.1v1.1h-1.1zM109.56 109.51h1.1v1.1h-1.1zM111.00 109.40h1.1v1.1h-1.1zM112.45 109.80h1.1v1.1h-1.1zM113.93 109.65h1.1v1.1h-1.1zM115.24 109.53h1.1v1.1h-1.1zM116.70 109.53h1.1v1.1h-1.1zM118.08 109.45h1.1v1.1h-1.1zM119.42 109.09h1.1v1.1h-1.1zM102.72 110.85h1.1v1.1h-1.1zM104.10 111.28h1.1v1.1h-1.1zM105.44 111.30h1.1v1.1h-1.1zM106.87 111.73h1.1v1.1h-1.1zM108.24 111.65h1.1v1.1h-1.1zM109.60 112.10h1.1v1.1h-1.1zM111.01 111.94h1.1v1.1h-1.1zM112.52 112.23h1.1v1.1h-1.1zM113.78 112.06h1.1v1.1h-1.1zM115.22 112.05h1.1v1.1h-1.1zM116.58 112.07h1.1v1.1h-1.1zM117.99 111.87h1.1v1.1h-1.1zM119.50 111.99h1.1v1.1h-1.1zM120.94 111.46h1.1v1.1h-1.1zM122.23 111.27h1.1v1.1h-1.1zM123.71 111.41h1.1v1.1h-1.1zM125.04 111.08h1.1v1.1h-1.1zM108.28 113.33h1.1v1.1h-1.1zM109.59 113.49h1.1v1.1h-1.1zM110.96 113.77h1.1v1.1h-1.1zM112.51 113.90h1.1v1.1h-1.1zM113.85 114.07h1.1v1.1h-1.1zM115.24 113.99h1.1v1.1h-1.1zM116.67 113.67h1.1v1.1h-1.1zM118.10 113.61h1.1v1.1h-1.1zM119.44 113.61h1.1v1.1h-1.1zM108.30 115.62h1.1v1.1h-1.1zM109.60 115.80h1.1v1.1h-1.1zM111.13 116.12h1.1v1.1h-1.1zM112.49 116.28h1.1v1.1h-1.1zM113.89 116.39h1.1v1.1h-1.1zM115.24 116.23h1.1v1.1h-1.1zM116.68 115.95h1.1v1.1h-1.1zM118.03 115.67h1.1v1.1h-1.1zM119.49 115.70h1.1v1.1h-1.1zM108.20 117.80h1.1v1.1h-1.1zM109.64 117.92h1.1v1.1h-1.1zM111.03 118.16h1.1v1.1h-1.1zM112.54 118.31h1.1v1.1h-1.1zM113.88 118.17h1.1v1.1h-1.1zM115.23 118.35h1.1v1.1h-1.1zM116.74 118.11h1.1v1.1h-1.1zM118.06 117.77h1.1v1.1h-1.1zM119.51 117.61h1.1v1.1h-1.1zM108.25 120.02h1.1v1.1h-1.1zM109.66 119.89h1.1v1.1h-1.1zM111.09 120.23h1.1v1.1h-1.1zM112.48 120.34h1.1v1.1h-1.1zM113.85 120.53h1.1v1.1h-1.1zM115.34 120.30h1.1v1.1h-1.1zM116.69 120.10h1.1v1.1h-1.1zM118.10 120.01h1.1v1.1h-1.1zM119.55 119.70h1.1v1.1h-1.1zM110.96 121.61h1.1v1.1h-1.1zM112.43 121.80h1.1v1.1h-1.1zM113.83 121.80h1.1v1.1h-1.1zM115.29 121.86h1.1v1.1h-1.1zM116.60 121.61h1.1v1.1h-1.1zM112.50 123.45h1.1v1.1h-1.1zM113.86 123.90h1.1v1.1h-1.1zM115.31 123.45h1.1v1.1h-1.1zM113.79 124.74h1.1v1.1h-1.1z" fill="#1c1c1c" fill-opacity="1"/>
<line x1="98" y1="82.8" x2="130.2" y2="82.8" stroke="#000" stroke-width="2.4"/>
<path d="M159.21 47.94h1.1v1.1h-1.1zM159.18 50.01h1.1v1.1h-1.1zM157.76 51.88h1.1v1.1h-1.1zM159.24 51.89h1.1v1.1h-1.1zM160.58 51.83h1.1v1.1h-1.1zM156.41 54.03h1.1v1.1h-1.1zM157.71 54.07h1.1v1.1h-1.1zM159.08 54.19h1.1v1.1h-1.1zM160.52 54.22h1.1v1.1h-1.1zM161.90 54.04h1.1v1.1h-1.1zM156.30 56.52h1.1v1.1h-1.1zM157.69 56.76h1.1v1.1h-1.1zM159.19 56.70h1.1v1.1h-1.1zM160.50 56.70h1.1v1.1h-1.1zM161.95 56.49h1.1v1.1h-1.1zM154.98 59.15h1.1v1.1h-1.1zM156.32 59.48h1.1v1.1h-1.1zM157.82 59.76h1.1v1.1h-1.1zM159.22 59.50h1.1v1.1h-1.1zM160.61 59.75h1.1v1.1h-1.1zM162.02 59.27h1.1v1.1h-1.1zM163.25 59.23h1.1v1.1h-1.1zM153.64 61.19h1.1v1.1h-1.1zM154.90 61.69h1.1v1.1h-1.1zM156.28 61.67h1.1v1.1h-1.1zM157.81 61.87h1.1v1.1h-1.1zM159.08 61.99h1.1v1.1h-1.1zM160.61 62.14h1.1v1.1h-1.1zM162.03 61.70h1.1v1.1h-1.1zM163.41 61.67h1.1v1.1h-1.1zM164.83 61.45h1.1v1.1h-1.1zM153.62 63.36h1.1v1.1h-1.1zM154.99 63.33h1.1v1.1h-1.1zM156.40 63.63h1.1v1.1h-1.1zM157.83 63.71h1.1v1.1h-1.1zM159.10 63.82h1.1v1.1h-1.1zM160.48 63.63h1.1v1.1h-1.1zM161.86 63.61h1.1v1.1h-1.1zM163.28 63.44h1.1v1.1h-1.1zM164.75 63.24h1.1v1.1h-1.1zM155.02 65.72h1.1v1.1h-1.1zM156.42 65.72h1.1v1.1h-1.1zM157.76 66.06h1.1v1.1h-1.1zM159.22 66.21h1.1v1.1h-1.1zM160.53 66.02h1.1v1.1h-1.1zM161.87 66.10h1.1v1.1h-1.1zM163.38 65.76h1.1v1.1h-1.1zM146.57 67.84h1.1v1.1h-1.1zM148.04 68.32h1.1v1.1h-1.1zM149.45 68.39h1.1v1.1h-1.1zM150.75 68.66h1.1v1.1h-1.1zM152.06 68.99h1.1v1.1h-1.1zM153.58 69.07h1.1v1.1h-1.1zM155.02 69.05h1.1v1.1h-1.1zM156.34 69.17h1.1v1.1h-1.1zM157.80 69.31h1.1v1.1h-1.1zM159.14 69.23h1.1v1.1h-1.1zM160.56 69.27h1.1v1.1h-1.1zM161.91 69.36h1.1v1.1h-1.1zM163.33 69.25h1.1v1.1h-1.1zM164.70 68.98h1.1v1.1h-1.1zM166.24 68.83h1.1v1.1h-1.1zM167.61 68.72h1.1v1.1h-1.1zM168.91 68.39h1.1v1.1h-1.1zM170.37 68.17h1.1v1.1h-1.1zM171.81 68.08h1.1v1.1h-1.1zM153.59 70.46h1.1v1.1h-1.1zM154.96 71.00h1.1v1.1h-1.1zM156.31 70.84h1.1v1.1h-1.1zM157.69 70.94h1.1v1.1h-1.1zM159.17 71.37h1.1v1.1h-1.1zM160.61 71.20h1.1v1.1h-1.1zM161.97 71.18h1.1v1.1h-1.1zM163.38 70.90h1.1v1.1h-1.1zM164.77 70.73h1.1v1.1h-1.1zM146.49 72.77h1.1v1.1h-1.1zM147.94 73.00h1.1v1.1h-1.1zM149.27 73.25h1.1v1.1h-1.1zM150.66 73.22h1.1v1.1h-1.1zM152.23 73.64h1.1v1.1h-1.1zM153.52 73.76h1.1v1.1h-1.1zM155.01 73.96h1.1v1.1h-1.1zM156.30 73.97h1.1v1.1h-1.1zM157.73 73.95h1.1v1.1h-1.1zM159.14 74.00h1.1v1.1h-1.1zM160.64 74.08h1.1v1.1h-1.1zM161.96 73.77h1.1v1.1h-1.1zM163.27 73.65h1.1v1.1h-1.1zM164.77 73.82h1.1v1.1h-1.1zM166.14 73.70h1.1v1.1h-1.1zM167.53 73.16h1.1v1.1h-1.1zM169.04 73.19h1.1v1.1h-1.1zM170.35 73.12h1.1v1.1h-1.1zM171.67 72.66h1.1v1.1h-1.1zM153.49 75.44h1.1v1.1h-1.1zM154.85 75.49h1.1v1.1h-1.1zM156.39 75.63h1.1v1.1h-1.1zM157.84 75.82h1.1v1.1h-1.1zM159.22 75.88h1.1v1.1h-1.1zM160.45 75.83h1.1v1.1h-1.1zM161.90 75.92h1.1v1.1h-1.1zM163.29 75.72h1.1v1.1h-1.1zM164.80 75.21h1.1v1.1h-1.1zM149.42 76.23h1.1v1.1h-1.1zM150.67 76.48h1.1v1.1h-1.1zM152.19 76.65h1.1v1.1h-1.1zM153.64 76.78h1.1v1.1h-1.1zM155.04 76.86h1.1v1.1h-1.1zM156.25 77.18h1.1v1.1h-1.1zM157.78 77.00h1.1v1.1h-1.1zM159.07 77.37h1.1v1.1h-1.1zM160.60 77.12h1.1v1.1h-1.1zM162.02 76.96h1.1v1.1h-1.1zM163.26 76.96h1.1v1.1h-1.1zM164.76 76.74h1.1v1.1h-1.1zM166.19 76.58h1.1v1.1h-1.1zM167.61 76.24h1.1v1.1h-1.1zM168.98 76.09h1.1v1.1h-1.1zM150.73 80.46h1.1v1.1h-1.1zM152.21 80.61h1.1v1.1h-1.1zM153.61 81.06h1.1v1.1h-1.1zM154.91 81.10h1.1v1.1h-1.1zM156.44 81.05h1.1v1.1h-1.1zM157.82 81.42h1.1v1.1h-1.1zM159.17 81.33h1.1v1.1h-1.1zM160.62 81.53h1.1v1.1h-1.1zM161.91 81.27h1.1v1.1h-1.1zM163.43 81.04h1.1v1.1h-1.1zM164.79 80.83h1.1v1.1h-1.1zM166.23 80.70h1.1v1.1h-1.1zM167.51 80.53h1.1v1.1h-1.1zM146.50 81.82h1.1v1.1h-1.1zM147.97 82.22h1.1v1.1h-1.1zM149.43 82.59h1.1v1.1h-1.1zM150.82 82.47h1.1v1.1h-1.1zM152.22 82.95h1.1v1.1h-1.1zM153.50 83.01h1.1v1.1h-1.1zM155.01 83.26h1.1v1.1h-1.1zM156.43 83.30h1.1v1.1h-1.1zM157.67 83.24h1.1v1.1h-1.1zM159.21 83.37h1.1v1.1h-1.1zM160.60 83.18h1.1v1.1h-1.1zM161.90 83.40h1.1v1.1h-1.1zM163.39 83.16h1.1v1.1h-1.1zM164.69 82.97h1.1v1.1h-1.1zM166.20 82.73h1.1v1.1h-1.1zM167.54 82.77h1.1v1.1h-1.1zM169.01 82.30h1.1v1.1h-1.1zM170.30 82.36h1.1v1.1h-1.1zM171.83 82.06h1.1v1.1h-1.1zM152.15 84.88h1.1v1.1h-1.1zM153.57 84.95h1.1v1.1h-1.1zM154.89 85.03h1.1v1.1h-1.1zM156.39 85.19h1.1v1.1h-1.1zM157.76 85.38h1.1v1.1h-1.1zM159.15 85.46h1.1v1.1h-1.1zM160.46 85.30h1.1v1.1h-1.1zM161.92 85.52h1.1v1.1h-1.1zM163.38 85.00h1.1v1.1h-1.1zM164.68 85.07h1.1v1.1h-1.1zM166.12 84.77h1.1v1.1h-1.1zM153.45 86.66h1.1v1.1h-1.1zM155.05 86.66h1.1v1.1h-1.1zM156.35 87.16h1.1v1.1h-1.1zM157.70 87.16h1.1v1.1h-1.1zM159.14 87.31h1.1v1.1h-1.1zM160.60 87.32h1.1v1.1h-1.1zM162.04 87.14h1.1v1.1h-1.1zM163.26 86.75h1.1v1.1h-1.1zM164.69 86.53h1.1v1.1h-1.1zM150.66 88.64h1.1v1.1h-1.1zM152.22 89.08h1.1v1.1h-1.1zM153.64 89.26h1.1v1.1h-1.1zM154.86 89.63h1.1v1.1h-1.1zM156.33 89.66h1.1v1.1h-1.1zM157.84 89.59h1.1v1.1h-1.1zM159.16 89.70h1.1v1.1h-1.1zM160.64 89.80h1.1v1.1h-1.1zM161.93 89.69h1.1v1.1h-1.1zM163.28 89.45h1.1v1.1h-1.1zM164.85 89.46h1.1v1.1h-1.1zM166.06 88.94h1.1v1.1h-1.1zM167.52 88.71h1.1v1.1h-1.1zM155.03 91.07h1.1v1.1h-1.1zM156.26 91.25h1.1v1.1h-1.1zM157.79 91.39h1.1v1.1h-1.1zM159.25 91.41h1.1v1.1h-1.1zM160.48 91.09h1.1v1.1h-1.1zM162.04 91.22h1.1v1.1h-1.1zM163.31 90.98h1.1v1.1h-1.1zM152.20 93.06h1.1v1.1h-1.1zM153.51 93.10h1.1v1.1h-1.1zM154.87 93.36h1.1v1.1h-1.1zM156.28 93.61h1.1v1.1h-1.1zM157.68 93.63h1.1v1.1h-1.1zM159.05 93.87h1.1v1.1h-1.1zM160.49 93.82h1.1v1.1h-1.1zM162.04 93.43h1.1v1.1h-1.1zM163.44 93.34h1.1v1.1h-1.1zM164.83 93.40h1.1v1.1h-1.1zM166.14 92.88h1.1v1.1h-1.1zM157.84 95.57h1.1v1.1h-1.1zM159.18 96.09h1.1v1.1h-1.1zM160.52 95.71h1.1v1.1h-1.1zM157.75 97.72h1.1v1.1h-1.1zM159.08 97.75h1.1v1.1h-1.1zM160.46 97.48h1.1v1.1h-1.1zM157.76 100.01h1.1v1.1h-1.1zM159.22 100.01h1.1v1.1h-1.1zM160.53 99.84h1.1v1.1h-1.1zM157.70 101.62h1.1v1.1h-1.1zM159.12 102.06h1.1v1.1h-1.1zM160.55 101.63h1.1v1.1h-1.1zM156.43 104.60h1.1v1.1h-1.1zM157.85 104.74h1.1v1.1h-1.1zM159.23 104.82h1.1v1.1h-1.1zM160.49 104.96h1.1v1.1h-1.1zM161.91 104.66h1.1v1.1h-1.1zM154.89 106.31h1.1v1.1h-1.1zM156.45 106.56h1.1v1.1h-1.1zM157.84 106.97h1.1v1.1h-1.1zM159.11 106.69h1.1v1.1h-1.1zM160.46 106.93h1.1v1.1h-1.1zM161.91 106.71h1.1v1.1h-1.1zM163.25 106.60h1.1v1.1h-1.1zM157.72 108.45h1.1v1.1h-1.1zM159.05 108.41h1.1v1.1h-1.1zM160.56 108.46h1.1v1.1h-1.1zM159.14 109.86h1.1v1.1h-1.1z" fill="#1c1c1c" fill-opacity="1"/>
<line x1="143.3" y1="79.2" x2="176" y2="79.2" stroke="#000" stroke-width="2.4"/>
<path d="M202.69 26.55h1.1v1.1h-1.1zM204.08 26.53h1.1v1.1h-1.1zM205.60 26.26h1.1v1.1h-1.1zM202.69 29.24h1.1v1.1h-1.1zM204.07 29.16h1.1v1.1h-1.1zM205.55 29.20h1.1v1.1h-1.1zM202.69 30.84h1.1v1.1h-1.1zM204.19 31.19h1.1v1.1h-1.1zM205.57 31.05h1.1v1.1h-1.1zM201.26 33.18h1.1v1.1h-1.1zM202.73 33.58h1.1v1.1h-1.1zM204.06 33.66h1.1v1.1h-1.1zM205.52 33.61h1.1v1.1h-1.1zM207.02 33.44h1.1v1.1h-1.1zM202.65 35.76h1.1v1.1h-1.1zM204.15 36.09h1.1v1.1h-1.1zM205.50 35.91h1.1v1.1h-1.1zM201.42 38.47h1.1v1.1h-1.1zM202.68 38.73h1.1v1.1h-1.1zM204.17 38.82h1.1v1.1h-1.1zM205.55 38.58h1.1v1.1h-1.1zM206.95 38.58h1.1v1.1h-1.1zM201.39 40.25h1.1v1.1h-1.1zM202.82 40.71h1.1v1.1h-1.1zM204.19 40.60h1.1v1.1h-1.1zM205.60 40.54h1.1v1.1h-1.1zM207.02 40.22h1.1v1.1h-1.1zM201.35 42.95h1.1v1.1h-1.1zM202.76 42.99h1.1v1.1h-1.1zM204.05 43.11h1.1v1.1h-1.1zM205.49 43.18h1.1v1.1h-1.1zM206.87 42.64h1.1v1.1h-1.1zM201.41 45.07h1.1v1.1h-1.1zM202.67 45.20h1.1v1.1h-1.1zM204.09 45.58h1.1v1.1h-1.1zM205.57 45.20h1.1v1.1h-1.1zM206.95 45.20h1.1v1.1h-1.1zM201.27 47.65h1.1v1.1h-1.1zM202.79 47.94h1.1v1.1h-1.1zM204.07 47.72h1.1v1.1h-1.1zM205.55 47.79h1.1v1.1h-1.1zM206.87 47.48h1.1v1.1h-1.1zM201.28 50.50h1.1v1.1h-1.1zM202.82 50.83h1.1v1.1h-1.1zM204.16 50.78h1.1v1.1h-1.1zM205.48 50.89h1.1v1.1h-1.1zM207.04 50.67h1.1v1.1h-1.1zM199.93 52.83h1.1v1.1h-1.1zM201.36 53.25h1.1v1.1h-1.1zM202.84 53.25h1.1v1.1h-1.1zM204.12 53.48h1.1v1.1h-1.1zM205.52 53.18h1.1v1.1h-1.1zM207.05 53.09h1.1v1.1h-1.1zM208.43 53.00h1.1v1.1h-1.1zM200.02 54.23h1.1v1.1h-1.1zM201.35 54.14h1.1v1.1h-1.1zM202.84 54.66h1.1v1.1h-1.1zM204.13 54.45h1.1v1.1h-1.1zM205.52 54.53h1.1v1.1h-1.1zM206.86 54.33h1.1v1.1h-1.1zM208.35 54.08h1.1v1.1h-1.1zM195.68 56.07h1.1v1.1h-1.1zM197.21 56.68h1.1v1.1h-1.1zM198.58 56.86h1.1v1.1h-1.1zM200.03 56.98h1.1v1.1h-1.1zM201.26 57.15h1.1v1.1h-1.1zM202.70 57.15h1.1v1.1h-1.1zM204.10 57.22h1.1v1.1h-1.1zM205.63 57.11h1.1v1.1h-1.1zM206.90 57.04h1.1v1.1h-1.1zM208.34 56.86h1.1v1.1h-1.1zM209.71 56.87h1.1v1.1h-1.1zM211.18 56.41h1.1v1.1h-1.1zM212.57 56.11h1.1v1.1h-1.1zM198.55 58.27h1.1v1.1h-1.1zM199.94 58.24h1.1v1.1h-1.1zM201.28 58.54h1.1v1.1h-1.1zM202.68 58.52h1.1v1.1h-1.1zM204.13 58.66h1.1v1.1h-1.1zM205.50 58.59h1.1v1.1h-1.1zM206.96 58.36h1.1v1.1h-1.1zM208.37 58.47h1.1v1.1h-1.1zM209.78 58.12h1.1v1.1h-1.1zM197.19 59.21h1.1v1.1h-1.1zM198.56 59.54h1.1v1.1h-1.1zM199.94 59.80h1.1v1.1h-1.1zM201.30 59.84h1.1v1.1h-1.1zM202.75 59.93h1.1v1.1h-1.1zM204.17 60.05h1.1v1.1h-1.1zM205.52 59.84h1.1v1.1h-1.1zM206.90 60.06h1.1v1.1h-1.1zM208.35 59.78h1.1v1.1h-1.1zM209.85 59.47h1.1v1.1h-1.1zM211.20 59.24h1.1v1.1h-1.1zM195.66 61.47h1.1v1.1h-1.1zM197.14 62.00h1.1v1.1h-1.1zM198.53 61.90h1.1v1.1h-1.1zM200.00 62.24h1.1v1.1h-1.1zM201.30 62.27h1.1v1.1h-1.1zM202.80 62.72h1.1v1.1h-1.1zM204.12 62.46h1.1v1.1h-1.1zM205.59 62.48h1.1v1.1h-1.1zM207.02 62.47h1.1v1.1h-1.1zM208.35 62.40h1.1v1.1h-1.1zM209.80 62.17h1.1v1.1h-1.1zM211.15 61.96h1.1v1.1h-1.1zM212.59 61.72h1.1v1.1h-1.1zM192.88 63.78h1.1v1.1h-1.1zM194.25 63.99h1.1v1.1h-1.1zM195.77 64.15h1.1v1.1h-1.1zM197.24 64.22h1.1v1.1h-1.1zM198.53 64.42h1.1v1.1h-1.1zM200.02 64.64h1.1v1.1h-1.1zM201.33 64.69h1.1v1.1h-1.1zM202.74 64.71h1.1v1.1h-1.1zM204.11 64.86h1.1v1.1h-1.1zM205.56 64.68h1.1v1.1h-1.1zM206.91 64.60h1.1v1.1h-1.1zM208.42 64.64h1.1v1.1h-1.1zM209.74 64.39h1.1v1.1h-1.1zM211.11 64.10h1.1v1.1h-1.1zM212.57 63.90h1.1v1.1h-1.1zM213.87 63.87h1.1v1.1h-1.1zM215.31 63.78h1.1v1.1h-1.1zM197.22 66.06h1.1v1.1h-1.1zM198.49 66.34h1.1v1.1h-1.1zM200.03 66.33h1.1v1.1h-1.1zM201.26 66.32h1.1v1.1h-1.1zM202.75 66.66h1.1v1.1h-1.1zM204.20 66.86h1.1v1.1h-1.1zM205.65 66.65h1.1v1.1h-1.1zM206.95 66.53h1.1v1.1h-1.1zM208.33 66.43h1.1v1.1h-1.1zM209.77 66.10h1.1v1.1h-1.1zM211.24 65.87h1.1v1.1h-1.1zM199.96 67.98h1.1v1.1h-1.1zM201.32 67.96h1.1v1.1h-1.1zM202.76 68.23h1.1v1.1h-1.1zM204.23 68.38h1.1v1.1h-1.1zM205.55 68.46h1.1v1.1h-1.1zM206.97 68.09h1.1v1.1h-1.1zM208.32 68.11h1.1v1.1h-1.1zM201.41 69.08h1.1v1.1h-1.1zM202.71 69.16h1.1v1.1h-1.1zM204.22 69.59h1.1v1.1h-1.1zM205.47 69.29h1.1v1.1h-1.1zM206.99 69.23h1.1v1.1h-1.1zM200.05 72.14h1.1v1.1h-1.1zM201.33 72.37h1.1v1.1h-1.1zM202.71 72.23h1.1v1.1h-1.1zM204.15 72.45h1.1v1.1h-1.1zM205.49 72.25h1.1v1.1h-1.1zM206.97 72.27h1.1v1.1h-1.1zM208.45 71.95h1.1v1.1h-1.1zM195.66 74.62h1.1v1.1h-1.1zM197.21 74.75h1.1v1.1h-1.1zM198.59 74.91h1.1v1.1h-1.1zM199.91 74.96h1.1v1.1h-1.1zM201.37 75.43h1.1v1.1h-1.1zM202.69 75.46h1.1v1.1h-1.1zM204.16 75.45h1.1v1.1h-1.1zM205.58 75.30h1.1v1.1h-1.1zM207.05 75.31h1.1v1.1h-1.1zM208.33 75.19h1.1v1.1h-1.1zM209.68 74.83h1.1v1.1h-1.1zM211.07 74.89h1.1v1.1h-1.1zM212.48 74.41h1.1v1.1h-1.1zM198.61 76.46h1.1v1.1h-1.1zM200.01 76.70h1.1v1.1h-1.1zM201.25 76.64h1.1v1.1h-1.1zM202.71 77.05h1.1v1.1h-1.1zM204.12 77.08h1.1v1.1h-1.1zM205.50 76.81h1.1v1.1h-1.1zM207.03 76.66h1.1v1.1h-1.1zM208.32 76.68h1.1v1.1h-1.1zM209.73 76.43h1.1v1.1h-1.1zM197.23 79.42h1.1v1.1h-1.1zM198.64 79.88h1.1v1.1h-1.1zM199.97 80.03h1.1v1.1h-1.1zM201.26 80.13h1.1v1.1h-1.1zM202.82 80.53h1.1v1.1h-1.1zM204.23 80.35h1.1v1.1h-1.1zM205.51 80.48h1.1v1.1h-1.1zM207.04 80.27h1.1v1.1h-1.1zM208.44 80.06h1.1v1.1h-1.1zM209.73 79.74h1.1v1.1h-1.1zM211.09 79.68h1.1v1.1h-1.1zM200.03 81.53h1.1v1.1h-1.1zM201.41 81.81h1.1v1.1h-1.1zM202.68 81.87h1.1v1.1h-1.1zM204.09 81.99h1.1v1.1h-1.1zM205.51 82.16h1.1v1.1h-1.1zM206.87 81.84h1.1v1.1h-1.1zM208.33 81.62h1.1v1.1h-1.1zM202.66 83.49h1.1v1.1h-1.1zM204.22 83.60h1.1v1.1h-1.1zM205.50 83.47h1.1v1.1h-1.1zM198.51 88.19h1.1v1.1h-1.1zM199.86 88.44h1.1v1.1h-1.1zM201.32 88.79h1.1v1.1h-1.1zM202.79 88.72h1.1v1.1h-1.1zM204.10 88.76h1.1v1.1h-1.1zM205.48 88.99h1.1v1.1h-1.1zM207.02 88.70h1.1v1.1h-1.1zM208.28 88.66h1.1v1.1h-1.1zM209.79 88.26h1.1v1.1h-1.1zM194.44 89.80h1.1v1.1h-1.1zM195.84 89.97h1.1v1.1h-1.1zM197.10 90.30h1.1v1.1h-1.1zM198.48 90.48h1.1v1.1h-1.1zM199.90 90.74h1.1v1.1h-1.1zM201.37 90.96h1.1v1.1h-1.1zM202.70 90.84h1.1v1.1h-1.1zM204.09 90.99h1.1v1.1h-1.1zM205.47 91.05h1.1v1.1h-1.1zM206.96 90.80h1.1v1.1h-1.1zM208.40 90.57h1.1v1.1h-1.1zM209.78 90.45h1.1v1.1h-1.1zM211.11 90.33h1.1v1.1h-1.1zM212.47 90.04h1.1v1.1h-1.1zM214.02 89.72h1.1v1.1h-1.1zM198.58 93.98h1.1v1.1h-1.1zM199.96 94.09h1.1v1.1h-1.1zM201.35 94.36h1.1v1.1h-1.1zM202.66 94.46h1.1v1.1h-1.1zM204.10 94.52h1.1v1.1h-1.1zM205.59 94.39h1.1v1.1h-1.1zM206.93 94.33h1.1v1.1h-1.1zM208.40 94.41h1.1v1.1h-1.1zM209.82 94.20h1.1v1.1h-1.1zM201.31 95.02h1.1v1.1h-1.1zM202.79 95.20h1.1v1.1h-1.1zM204.12 95.56h1.1v1.1h-1.1zM205.58 95.35h1.1v1.1h-1.1zM206.90 95.25h1.1v1.1h-1.1zM197.12 97.07h1.1v1.1h-1.1zM198.49 97.21h1.1v1.1h-1.1zM200.03 97.20h1.1v1.1h-1.1zM201.39 97.61h1.1v1.1h-1.1zM202.66 97.45h1.1v1.1h-1.1zM204.09 97.56h1.1v1.1h-1.1zM205.53 97.56h1.1v1.1h-1.1zM206.91 97.33h1.1v1.1h-1.1zM208.29 97.41h1.1v1.1h-1.1zM209.76 97.29h1.1v1.1h-1.1zM211.10 97.01h1.1v1.1h-1.1zM201.39 98.91h1.1v1.1h-1.1zM202.65 99.14h1.1v1.1h-1.1zM204.21 99.46h1.1v1.1h-1.1zM205.46 99.11h1.1v1.1h-1.1zM206.97 99.08h1.1v1.1h-1.1z" fill="#1c1c1c" fill-opacity="1"/>
<path d="M190.05 100.55h1.3v1.1h-1.3zM191.95 100.55h1.3v1.1h-1.3zM193.85 100.55h1.3v1.1h-1.3zM195.75 100.55h1.3v1.1h-1.3zM197.65 100.55h1.3v1.1h-1.3zM210.05 100.55h1.3v1.1h-1.3zM211.95 100.55h1.3v1.1h-1.3zM213.85 100.55h1.3v1.1h-1.3zM215.75 100.55h1.3v1.1h-1.3zM217.65 100.55h1.3v1.1h-1.3zM198.05 102.75h1.3v1.1h-1.3zM199.95 102.75h1.3v1.1h-1.3zM201.85 102.75h1.3v1.1h-1.3zM203.75 102.75h1.3v1.1h-1.3zM205.65 102.75h1.3v1.1h-1.3zM207.55 102.75h1.3v1.1h-1.3zM209.45 102.75h1.3v1.1h-1.3zM198.05 104.75h1.3v1.1h-1.3zM199.95 104.75h1.3v1.1h-1.3zM201.85 104.75h1.3v1.1h-1.3zM203.75 104.75h1.3v1.1h-1.3zM205.65 104.75h1.3v1.1h-1.3zM207.55 104.75h1.3v1.1h-1.3zM209.45 104.75h1.3v1.1h-1.3zM202.55 106.95h1.3v1.1h-1.3zM204.45 106.95h1.3v1.1h-1.3zM199.05 109.25h1.3v1.1h-1.3zM200.95 109.25h1.3v1.1h-1.3zM202.85 109.25h1.3v1.1h-1.3zM204.75 109.25h1.3v1.1h-1.3zM206.65 109.25h1.3v1.1h-1.3zM208.55 109.25h1.3v1.1h-1.3zM197.55 112.55h1.3v1.1h-1.3zM199.45 112.55h1.3v1.1h-1.3zM201.35 112.55h1.3v1.1h-1.3zM203.25 112.55h1.3v1.1h-1.3zM205.15 112.55h1.3v1.1h-1.3zM207.05 112.55h1.3v1.1h-1.3zM208.95 112.55h1.3v1.1h-1.3zM195.05 116.35h1.3v1.1h-1.3zM196.95 116.35h1.3v1.1h-1.3zM198.85 116.35h1.3v1.1h-1.3zM200.75 116.35h1.3v1.1h-1.3zM202.65 116.35h1.3v1.1h-1.3zM204.55 116.35h1.3v1.1h-1.3zM206.45 116.35h1.3v1.1h-1.3zM208.35 116.35h1.3v1.1h-1.3zM210.25 116.35h1.3v1.1h-1.3zM212.15 116.35h1.3v1.1h-1.3zM197.55 120.65h1.3v1.1h-1.3zM199.45 120.65h1.3v1.1h-1.3zM201.35 120.65h1.3v1.1h-1.3zM203.25 120.65h1.3v1.1h-1.3zM205.15 120.65h1.3v1.1h-1.3zM207.05 120.65h1.3v1.1h-1.3zM208.95 120.65h1.3v1.1h-1.3zM193.55 127.45h1.3v1.1h-1.3zM195.45 127.45h1.3v1.1h-1.3zM197.35 127.45h1.3v1.1h-1.3zM199.25 127.45h1.3v1.1h-1.3zM201.15 127.45h1.3v1.1h-1.3zM203.05 127.45h1.3v1.1h-1.3zM204.95 127.45h1.3v1.1h-1.3zM206.85 127.45h1.3v1.1h-1.3zM208.75 127.45h1.3v1.1h-1.3zM210.65 127.45h1.3v1.1h-1.3zM212.55 127.45h1.3v1.1h-1.3zM214.45 127.45h1.3v1.1h-1.3zM196.55 139.25h1.3v1.1h-1.3zM198.45 139.25h1.3v1.1h-1.3zM200.35 139.25h1.3v1.1h-1.3zM202.25 139.25h1.3v1.1h-1.3zM204.15 139.25h1.3v1.1h-1.3zM206.05 139.25h1.3v1.1h-1.3zM207.95 139.25h1.3v1.1h-1.3zM209.85 139.25h1.3v1.1h-1.3z" fill="#1c1c1c"/>
<line x1="188.6" y1="86.0" x2="221" y2="86.0" stroke="#000" stroke-width="2.4"/>
<line x1="342.0" y1="29.2" x2="342.0" y2="148" stroke="#000" stroke-width="1.5"/>
<line x1="341.25" y1="147.3" x2="520" y2="147.3" stroke="#000" stroke-width="1.5"/>
<line x1="338.2" y1="29.840000000000003" x2="342.0" y2="29.840000000000003" stroke="#000" stroke-width="1.3"/>
<text x="336.4" y="33.2" font-size="9.8" font-weight="bold" text-anchor="end" fill="#000">12</text>
<line x1="338.2" y1="55.980000000000004" x2="342.0" y2="55.980000000000004" stroke="#000" stroke-width="1.3"/>
<text x="336.4" y="59.4" font-size="9.8" font-weight="bold" text-anchor="end" fill="#000">10</text>
<line x1="338.2" y1="82.12" x2="342.0" y2="82.12" stroke="#000" stroke-width="1.3"/>
<text x="336.4" y="85.5" font-size="9.8" font-weight="bold" text-anchor="end" fill="#000">8</text>
<line x1="338.2" y1="108.26" x2="342.0" y2="108.26" stroke="#000" stroke-width="1.3"/>
<text x="336.4" y="111.7" font-size="9.8" font-weight="bold" text-anchor="end" fill="#000">6</text>
<line x1="338.2" y1="134.4" x2="342.0" y2="134.4" stroke="#000" stroke-width="1.3"/>
<text x="336.4" y="137.8" font-size="9.8" font-weight="bold" text-anchor="end" fill="#000">4</text>
<line x1="363.8" y1="147.3" x2="363.8" y2="151.8" stroke="#000" stroke-width="1.3"/>
<line x1="408" y1="147.3" x2="408" y2="151.8" stroke="#000" stroke-width="1.3"/>
<line x1="452.5" y1="147.3" x2="452.5" y2="151.8" stroke="#000" stroke-width="1.3"/>
<line x1="497" y1="147.3" x2="497" y2="151.8" stroke="#000" stroke-width="1.3"/>
<text x="366.8" y="160.3" font-size="10" font-weight="bold" text-anchor="end" fill="#1a1a1a" transform="rotate(-45 366.8 160.3)">Colon</text>
<text x="411.0" y="160.3" font-size="10" font-weight="bold" text-anchor="end" fill="#1a1a1a" transform="rotate(-45 411.0 160.3)">Liver</text>
<text x="455.5" y="160.3" font-size="10" font-weight="bold" text-anchor="end" fill="#1a1a1a" transform="rotate(-45 455.5 160.3)">Pancreatic</text>
<text x="500.0" y="160.3" font-size="10" font-weight="bold" text-anchor="end" fill="#1a1a1a" transform="rotate(-45 500.0 160.3)">Stomach</text>
<text x="428.9" y="207.4" font-size="9.8" font-weight="bold" text-anchor="middle" fill="#000">Cancer cell type</text>
<text x="316.6" y="87.7" font-size="9.77" font-weight="bold" text-anchor="middle" transform="rotate(-90 316.6 87.7)">Log2 RMA-norm. <tspan font-style="italic">LGR5</tspan> expression</text>
<circle cx="363.8" cy="54.7" r="1.85"/>
<circle cx="362.8" cy="75.6" r="1.85"/>
<circle cx="366.8" cy="74.3" r="1.85"/>
<circle cx="356.8" cy="76.9" r="1.85"/>
<circle cx="371.8" cy="77.5" r="1.85"/>
<circle cx="361.8" cy="80.2" r="1.85"/>
<circle cx="366.8" cy="82.8" r="1.85"/>
<circle cx="366.8" cy="86.0" r="1.85"/>
<circle cx="361.8" cy="87.3" r="1.85"/>
<circle cx="368.8" cy="90.6" r="1.85"/>
<circle cx="358.8" cy="95.2" r="1.85"/>
<circle cx="363.8" cy="93.9" r="1.85"/>
<circle cx="353.8" cy="96.5" r="1.85"/>
<circle cx="374.8" cy="96.5" r="1.85"/>
<circle cx="360.8" cy="97.8" r="1.85"/>
<circle cx="366.8" cy="98.5" r="1.85"/>
<circle cx="357.8" cy="101.7" r="1.85"/>
<circle cx="371.8" cy="101.1" r="1.85"/>
<circle cx="361.8" cy="103.0" r="1.85"/>
<circle cx="367.8" cy="103.7" r="1.85"/>
<circle cx="372.8" cy="103.0" r="1.85"/>
<circle cx="353.8" cy="108.9" r="1.85"/>
<circle cx="373.8" cy="108.9" r="1.85"/>
<circle cx="360.8" cy="110.2" r="1.85"/>
<circle cx="366.8" cy="110.9" r="1.85"/>
<circle cx="355.8" cy="114.1" r="1.85"/>
<circle cx="370.8" cy="113.5" r="1.85"/>
<circle cx="362.8" cy="113.5" r="1.85"/>
<circle cx="358.8" cy="116.1" r="1.85"/>
<circle cx="365.8" cy="116.8" r="1.85"/>
<circle cx="353.8" cy="118.1" r="1.85"/>
<circle cx="373.8" cy="118.7" r="1.85"/>
<circle cx="360.8" cy="119.4" r="1.85"/>
<circle cx="368.8" cy="120.0" r="1.85"/>
<circle cx="356.8" cy="122.0" r="1.85"/>
<circle cx="363.8" cy="121.3" r="1.85"/>
<circle cx="371.8" cy="122.6" r="1.85"/>
<circle cx="353.8" cy="124.6" r="1.85"/>
<circle cx="359.8" cy="125.3" r="1.85"/>
<circle cx="366.8" cy="125.3" r="1.85"/>
<circle cx="374.8" cy="125.9" r="1.85"/>
<circle cx="356.8" cy="128.5" r="1.85"/>
<circle cx="363.8" cy="128.5" r="1.85"/>
<circle cx="369.8" cy="127.9" r="1.85"/>
<circle cx="352.8" cy="130.5" r="1.85"/>
<circle cx="359.8" cy="131.1" r="1.85"/>
<circle cx="366.8" cy="131.1" r="1.85"/>
<circle cx="372.8" cy="130.5" r="1.85"/>
<circle cx="354.8" cy="133.7" r="1.85"/>
<circle cx="361.8" cy="134.4" r="1.85"/>
<circle cx="368.8" cy="134.4" r="1.85"/>
<circle cx="374.8" cy="133.1" r="1.85"/>
<circle cx="357.8" cy="135.7" r="1.85"/>
<circle cx="364.8" cy="136.4" r="1.85"/>
<circle cx="371.8" cy="135.7" r="1.85"/>
<circle cx="361.8" cy="137.7" r="1.85"/>
<line x1="348.5" y1="114.6" x2="379.8" y2="114.6" stroke="#000" stroke-width="1.4"/>
<circle cx="405.0" cy="79.5" r="1.85"/>
<circle cx="407.0" cy="77.5" r="1.85"/>
<circle cx="410.0" cy="83.4" r="1.85"/>
<circle cx="410.0" cy="91.9" r="1.85"/>
<circle cx="405.0" cy="95.8" r="1.85"/>
<circle cx="408.0" cy="101.7" r="1.85"/>
<circle cx="405.0" cy="108.3" r="1.85"/>
<circle cx="410.0" cy="108.3" r="1.85"/>
<circle cx="405.0" cy="114.8" r="1.85"/>
<circle cx="410.0" cy="116.1" r="1.85"/>
<circle cx="400.0" cy="123.9" r="1.85"/>
<circle cx="406.0" cy="123.3" r="1.85"/>
<circle cx="411.0" cy="124.6" r="1.85"/>
<circle cx="416.0" cy="122.0" r="1.85"/>
<circle cx="403.0" cy="127.2" r="1.85"/>
<circle cx="409.0" cy="127.9" r="1.85"/>
<circle cx="414.0" cy="127.2" r="1.85"/>
<circle cx="399.0" cy="129.2" r="1.85"/>
<circle cx="405.0" cy="131.1" r="1.85"/>
<circle cx="411.0" cy="131.8" r="1.85"/>
<circle cx="416.0" cy="130.5" r="1.85"/>
<circle cx="401.0" cy="133.7" r="1.85"/>
<circle cx="408.0" cy="134.4" r="1.85"/>
<circle cx="413.0" cy="133.7" r="1.85"/>
<circle cx="405.0" cy="136.4" r="1.85"/>
<circle cx="416.0" cy="133.7" r="1.85"/>
<line x1="393.2" y1="124.6" x2="424" y2="124.6" stroke="#000" stroke-width="1.4"/>
<circle cx="452.5" cy="74.9" r="1.85"/>
<circle cx="452.5" cy="82.8" r="1.85"/>
<circle cx="452.5" cy="97.8" r="1.85"/>
<circle cx="452.5" cy="109.6" r="1.85"/>
<circle cx="444.5" cy="121.3" r="1.85"/>
<circle cx="460.5" cy="122.0" r="1.85"/>
<circle cx="449.5" cy="123.6" r="1.85"/>
<circle cx="455.0" cy="124.3" r="1.85"/>
<circle cx="446.5" cy="126.6" r="1.85"/>
<circle cx="452.5" cy="126.8" r="1.85"/>
<circle cx="458.5" cy="126.6" r="1.85"/>
<circle cx="440.5" cy="128.9" r="1.85"/>
<circle cx="443.5" cy="130.2" r="1.85"/>
<circle cx="446.5" cy="128.9" r="1.85"/>
<circle cx="449.5" cy="130.5" r="1.85"/>
<circle cx="452.5" cy="129.2" r="1.85"/>
<circle cx="455.5" cy="130.5" r="1.85"/>
<circle cx="458.5" cy="128.9" r="1.85"/>
<circle cx="461.5" cy="130.2" r="1.85"/>
<circle cx="464.5" cy="128.9" r="1.85"/>
<circle cx="442.5" cy="131.8" r="1.85"/>
<circle cx="445.5" cy="132.7" r="1.85"/>
<circle cx="448.5" cy="131.8" r="1.85"/>
<circle cx="451.5" cy="132.7" r="1.85"/>
<circle cx="454.5" cy="131.8" r="1.85"/>
<circle cx="457.5" cy="132.7" r="1.85"/>
<circle cx="460.5" cy="131.8" r="1.85"/>
<circle cx="463.5" cy="131.5" r="1.85"/>
<circle cx="447.5" cy="134.1" r="1.85"/>
<circle cx="453.5" cy="134.1" r="1.85"/>
<circle cx="459.5" cy="134.1" r="1.85"/>
<circle cx="455.5" cy="137.7" r="1.85"/>
<circle cx="450.0" cy="142.9" r="1.85"/>
<line x1="437.5" y1="131.6" x2="468.3" y2="131.6" stroke="#000" stroke-width="1.4"/>
<circle cx="497.0" cy="49.4" r="1.85"/>
<circle cx="497.0" cy="61.2" r="1.85"/>
<circle cx="497.0" cy="69.7" r="1.85"/>
<circle cx="494.0" cy="82.8" r="1.85"/>
<circle cx="500.0" cy="83.4" r="1.85"/>
<circle cx="489.0" cy="97.2" r="1.85"/>
<circle cx="494.0" cy="99.8" r="1.85"/>
<circle cx="494.0" cy="94.5" r="1.85"/>
<circle cx="500.0" cy="92.6" r="1.85"/>
<circle cx="500.0" cy="102.4" r="1.85"/>
<circle cx="505.0" cy="100.4" r="1.85"/>
<circle cx="497.0" cy="113.5" r="1.85"/>
<circle cx="494.0" cy="120.0" r="1.85"/>
<circle cx="500.0" cy="122.0" r="1.85"/>
<circle cx="489.0" cy="127.2" r="1.85"/>
<circle cx="494.0" cy="127.9" r="1.85"/>
<circle cx="499.0" cy="125.9" r="1.85"/>
<circle cx="505.0" cy="125.3" r="1.85"/>
<circle cx="486.0" cy="129.8" r="1.85"/>
<circle cx="491.0" cy="130.5" r="1.85"/>
<circle cx="496.0" cy="130.5" r="1.85"/>
<circle cx="501.0" cy="129.8" r="1.85"/>
<circle cx="506.0" cy="129.2" r="1.85"/>
<circle cx="488.0" cy="133.1" r="1.85"/>
<circle cx="493.0" cy="133.7" r="1.85"/>
<circle cx="498.0" cy="133.1" r="1.85"/>
<circle cx="503.0" cy="133.1" r="1.85"/>
<circle cx="508.0" cy="132.4" r="1.85"/>
<circle cx="491.0" cy="135.7" r="1.85"/>
<circle cx="501.0" cy="136.4" r="1.85"/>
<circle cx="507.0" cy="135.1" r="1.85"/>
<circle cx="495.0" cy="137.0" r="1.85"/>
<circle cx="502.0" cy="138.3" r="1.85"/>
<circle cx="497.0" cy="139.6" r="1.85"/>
<line x1="482" y1="129.1" x2="512.8" y2="129.1" stroke="#000" stroke-width="1.4"/>
<line x1="51.4" y1="222.3" x2="51.4" y2="349.5" stroke="#000" stroke-width="1.2"/>
<line x1="49.199999999999996" y1="349.5" x2="53.6" y2="349.5" stroke="#000" stroke-width="1.1"/>
<line x1="51.4" y1="356.9" x2="51.4" y2="371.3" stroke="#000" stroke-width="1.2"/>
<line x1="49.199999999999996" y1="356.9" x2="53.6" y2="356.9" stroke="#000" stroke-width="1.1"/>
<line x1="50.8" y1="370.7" x2="199" y2="370.7" stroke="#000" stroke-width="1.2"/>
<line x1="48.4" y1="237.7" x2="51.4" y2="237.7" stroke="#000" stroke-width="1.2"/>
<text x="47.5" y="241.8" font-size="9.8" font-weight="bold" text-anchor="end" fill="#000">12</text>
<line x1="48.4" y1="282.1" x2="51.4" y2="282.1" stroke="#000" stroke-width="1.2"/>
<text x="47.5" y="286.2" font-size="9.8" font-weight="bold" text-anchor="end" fill="#000">9</text>
<line x1="48.4" y1="326.5" x2="51.4" y2="326.5" stroke="#000" stroke-width="1.2"/>
<text x="47.5" y="330.6" font-size="9.8" font-weight="bold" text-anchor="end" fill="#000">6</text>
<line x1="48.4" y1="361.6" x2="51.4" y2="361.6" stroke="#000" stroke-width="1.2"/>
<text x="47.5" y="364.2" font-size="9.8" font-weight="bold" text-anchor="end" fill="#000">3</text>
<line x1="48.4" y1="370.7" x2="51.4" y2="370.7" stroke="#000" stroke-width="1.2"/>
<text x="47.5" y="373.6" font-size="9.8" font-weight="bold" text-anchor="end" fill="#000">0</text>
<line x1="88.2" y1="370.7" x2="88.2" y2="374.8" stroke="#000" stroke-width="1.2"/>
<line x1="162.2" y1="370.7" x2="162.2" y2="374.8" stroke="#000" stroke-width="1.2"/>
<text x="88.4" y="382.3" font-size="9.4" font-weight="bold" text-anchor="middle" fill="#000">Normal</text>
<text x="162.3" y="382.3" font-size="9.4" font-weight="bold" text-anchor="middle" fill="#000">Tumor</text>
<text x="124.8" y="396" font-size="9.4" font-weight="bold" text-anchor="middle" fill="#000">TCGA COAD samples</text>
<text x="57" y="237" font-size="9.45" font-weight="normal" style="stroke:none"><tspan font-style="italic">P</tspan> &lt; 0.0001</text>
<text x="26" y="297.5" font-size="9.45" font-weight="bold" text-anchor="middle" transform="rotate(-90 26 297.5)">Expression of <tspan font-style="italic">LGR5</tspan> log2 (RSEM)</text>
<line x1="88.2" y1="335.6" x2="162.2" y2="255.0" stroke="#111" stroke-width="0.75"/>
<line x1="88.2" y1="327.4" x2="162.2" y2="264.0" stroke="#111" stroke-width="0.75"/>
<line x1="88.2" y1="328.5" x2="162.2" y2="328.5" stroke="#111" stroke-width="0.75"/>
<line x1="88.2" y1="320.7" x2="162.2" y2="244.5" stroke="#111" stroke-width="0.75"/>
<line x1="88.2" y1="303.8" x2="162.2" y2="341.6" stroke="#111" stroke-width="0.75"/>
<line x1="88.2" y1="306.0" x2="162.2" y2="339.8" stroke="#111" stroke-width="0.75"/>
<line x1="88.2" y1="300.8" x2="162.2" y2="330.0" stroke="#111" stroke-width="0.75"/>
<line x1="88.2" y1="292.5" x2="162.2" y2="310.8" stroke="#111" stroke-width="0.75"/>
<line x1="88.2" y1="296.2" x2="162.2" y2="303.0" stroke="#111" stroke-width="0.75"/>
<line x1="88.2" y1="279.1" x2="162.2" y2="253.5" stroke="#111" stroke-width="0.75"/>
<line x1="88.2" y1="281.2" x2="162.2" y2="261.0" stroke="#111" stroke-width="0.75"/>
<line x1="88.2" y1="288.0" x2="162.2" y2="249.0" stroke="#111" stroke-width="0.75"/>
<line x1="88.2" y1="298.9" x2="162.2" y2="226.3" stroke="#111" stroke-width="0.75"/>
<line x1="88.2" y1="300.0" x2="162.2" y2="228.9" stroke="#111" stroke-width="0.75"/>
<line x1="88.2" y1="303.0" x2="162.2" y2="236.2" stroke="#111" stroke-width="0.75"/>
<line x1="88.2" y1="310.5" x2="162.2" y2="243.6" stroke="#111" stroke-width="0.75"/>
<line x1="88.2" y1="309.6" x2="162.2" y2="250.3" stroke="#111" stroke-width="0.75"/>
<line x1="88.2" y1="308.8" x2="162.2" y2="266.4" stroke="#111" stroke-width="0.75"/>
<line x1="88.2" y1="307.9" x2="162.2" y2="259.7" stroke="#111" stroke-width="0.75"/>
<line x1="88.2" y1="307.1" x2="162.2" y2="265.1" stroke="#111" stroke-width="0.75"/>
<line x1="88.2" y1="306.2" x2="162.2" y2="271.8" stroke="#111" stroke-width="0.75"/>
<line x1="88.2" y1="305.4" x2="162.2" y2="286.5" stroke="#111" stroke-width="0.75"/>
<line x1="88.2" y1="304.5" x2="162.2" y2="249.0" stroke="#111" stroke-width="0.75"/>
<line x1="88.2" y1="303.7" x2="162.2" y2="270.5" stroke="#111" stroke-width="0.75"/>
<line x1="88.2" y1="302.8" x2="162.2" y2="262.4" stroke="#111" stroke-width="0.75"/>
<line x1="88.2" y1="302.0" x2="162.2" y2="261.1" stroke="#111" stroke-width="0.75"/>
<line x1="88.2" y1="301.1" x2="162.2" y2="257.0" stroke="#111" stroke-width="0.75"/>
<line x1="88.2" y1="300.3" x2="162.2" y2="242.2" stroke="#111" stroke-width="0.75"/>
<line x1="88.2" y1="299.4" x2="162.2" y2="244.9" stroke="#111" stroke-width="0.75"/>
<line x1="88.2" y1="298.6" x2="162.2" y2="279.1" stroke="#111" stroke-width="0.75"/>
<line x1="88.2" y1="297.7" x2="162.2" y2="239.6" stroke="#111" stroke-width="0.75"/>
<line x1="88.2" y1="296.8" x2="162.2" y2="267.8" stroke="#111" stroke-width="0.75"/>
<line x1="88.2" y1="296.0" x2="162.2" y2="247.6" stroke="#111" stroke-width="0.75"/>
<line x1="88.2" y1="295.1" x2="162.2" y2="289.5" stroke="#111" stroke-width="0.75"/>
<line x1="88.2" y1="294.3" x2="162.2" y2="246.3" stroke="#111" stroke-width="0.75"/>
<line x1="88.2" y1="293.4" x2="162.2" y2="283.9" stroke="#111" stroke-width="0.75"/>
<line x1="88.2" y1="292.6" x2="162.2" y2="240.9" stroke="#111" stroke-width="0.75"/>
<line x1="88.2" y1="291.7" x2="162.2" y2="251.6" stroke="#111" stroke-width="0.75"/>
<line x1="88.2" y1="290.9" x2="162.2" y2="258.4" stroke="#111" stroke-width="0.75"/>
<line x1="88.2" y1="290.0" x2="162.2" y2="253.0" stroke="#111" stroke-width="0.75"/>
<line x1="88.2" y1="289.2" x2="162.2" y2="263.7" stroke="#111" stroke-width="0.75"/>
<line x1="88.2" y1="288.3" x2="162.2" y2="276.9" stroke="#111" stroke-width="0.75"/>
<line x1="88.2" y1="287.5" x2="162.2" y2="255.7" stroke="#111" stroke-width="0.75"/>
<line x1="88.2" y1="286.6" x2="162.2" y2="254.3" stroke="#111" stroke-width="0.75"/>
<line x1="88.2" y1="285.8" x2="162.2" y2="269.1" stroke="#111" stroke-width="0.75"/>
<circle cx="88.2" cy="335.6" r="1.9"/>
<circle cx="88.2" cy="327.4" r="1.9"/>
<circle cx="88.2" cy="328.5" r="1.9"/>
<circle cx="88.2" cy="320.7" r="1.9"/>
<circle cx="88.2" cy="303.8" r="1.9"/>
<circle cx="88.2" cy="306.0" r="1.9"/>
<circle cx="88.2" cy="300.8" r="1.9"/>
<circle cx="88.2" cy="292.5" r="1.9"/>
<circle cx="88.2" cy="296.2" r="1.9"/>
<circle cx="88.2" cy="279.1" r="1.9"/>
<circle cx="88.2" cy="281.2" r="1.9"/>
<circle cx="88.2" cy="288.0" r="1.9"/>
<circle cx="88.2" cy="298.9" r="1.9"/>
<circle cx="88.2" cy="300.0" r="1.9"/>
<circle cx="88.2" cy="303.0" r="1.9"/>
<circle cx="88.2" cy="310.5" r="1.9"/>
<circle cx="88.2" cy="309.6" r="1.9"/>
<circle cx="88.2" cy="308.8" r="1.9"/>
<circle cx="88.2" cy="307.9" r="1.9"/>
<circle cx="88.2" cy="307.1" r="1.9"/>
<circle cx="88.2" cy="306.2" r="1.9"/>
<circle cx="88.2" cy="305.4" r="1.9"/>
<circle cx="88.2" cy="304.5" r="1.9"/>
<circle cx="88.2" cy="303.7" r="1.9"/>
<circle cx="88.2" cy="302.8" r="1.9"/>
<circle cx="88.2" cy="302.0" r="1.9"/>
<circle cx="88.2" cy="301.1" r="1.9"/>
<circle cx="88.2" cy="300.3" r="1.9"/>
<circle cx="88.2" cy="299.4" r="1.9"/>
<circle cx="88.2" cy="298.6" r="1.9"/>
<circle cx="88.2" cy="297.7" r="1.9"/>
<circle cx="88.2" cy="296.8" r="1.9"/>
<circle cx="88.2" cy="296.0" r="1.9"/>
<circle cx="88.2" cy="295.1" r="1.9"/>
<circle cx="88.2" cy="294.3" r="1.9"/>
<circle cx="88.2" cy="293.4" r="1.9"/>
<circle cx="88.2" cy="292.6" r="1.9"/>
<circle cx="88.2" cy="291.7" r="1.9"/>
<circle cx="88.2" cy="290.9" r="1.9"/>
<circle cx="88.2" cy="290.0" r="1.9"/>
<circle cx="88.2" cy="289.2" r="1.9"/>
<circle cx="88.2" cy="288.3" r="1.9"/>
<circle cx="88.2" cy="287.5" r="1.9"/>
<circle cx="88.2" cy="286.6" r="1.9"/>
<circle cx="88.2" cy="285.8" r="1.9"/>
<circle cx="162.2" cy="255.0" r="1.9"/>
<circle cx="162.2" cy="264.0" r="1.9"/>
<circle cx="162.2" cy="328.5" r="1.9"/>
<circle cx="162.2" cy="244.5" r="1.9"/>
<circle cx="162.2" cy="341.6" r="1.9"/>
<circle cx="162.2" cy="339.8" r="1.9"/>
<circle cx="162.2" cy="330.0" r="1.9"/>
<circle cx="162.2" cy="310.8" r="1.9"/>
<circle cx="162.2" cy="303.0" r="1.9"/>
<circle cx="162.2" cy="253.5" r="1.9"/>
<circle cx="162.2" cy="261.0" r="1.9"/>
<circle cx="162.2" cy="249.0" r="1.9"/>
<circle cx="162.2" cy="226.3" r="1.9"/>
<circle cx="162.2" cy="228.9" r="1.9"/>
<circle cx="162.2" cy="236.2" r="1.9"/>
<circle cx="162.2" cy="243.6" r="1.9"/>
<circle cx="162.2" cy="250.3" r="1.9"/>
<circle cx="162.2" cy="266.4" r="1.9"/>
<circle cx="162.2" cy="259.7" r="1.9"/>
<circle cx="162.2" cy="265.1" r="1.9"/>
<circle cx="162.2" cy="271.8" r="1.9"/>
<circle cx="162.2" cy="286.5" r="1.9"/>
<circle cx="162.2" cy="249.0" r="1.9"/>
<circle cx="162.2" cy="270.5" r="1.9"/>
<circle cx="162.2" cy="262.4" r="1.9"/>
<circle cx="162.2" cy="261.1" r="1.9"/>
<circle cx="162.2" cy="257.0" r="1.9"/>
<circle cx="162.2" cy="242.2" r="1.9"/>
<circle cx="162.2" cy="244.9" r="1.9"/>
<circle cx="162.2" cy="279.1" r="1.9"/>
<circle cx="162.2" cy="239.6" r="1.9"/>
<circle cx="162.2" cy="267.8" r="1.9"/>
<circle cx="162.2" cy="247.6" r="1.9"/>
<circle cx="162.2" cy="289.5" r="1.9"/>
<circle cx="162.2" cy="246.3" r="1.9"/>
<circle cx="162.2" cy="283.9" r="1.9"/>
<circle cx="162.2" cy="240.9" r="1.9"/>
<circle cx="162.2" cy="251.6" r="1.9"/>
<circle cx="162.2" cy="258.4" r="1.9"/>
<circle cx="162.2" cy="253.0" r="1.9"/>
<circle cx="162.2" cy="263.7" r="1.9"/>
<circle cx="162.2" cy="276.9" r="1.9"/>
<circle cx="162.2" cy="255.7" r="1.9"/>
<circle cx="162.2" cy="254.3" r="1.9"/>
<circle cx="162.2" cy="269.1" r="1.9"/>
<line x1="342.4" y1="224" x2="342.4" y2="373.1" stroke="#000" stroke-width="1.1"/>
<line x1="341.84999999999997" y1="372.5" x2="490" y2="372.5" stroke="#000" stroke-width="1.2"/>
<line x1="339.4" y1="235.7" x2="342.4" y2="235.7" stroke="#000" stroke-width="1.2"/>
<text x="336.79999999999995" y="239.1" font-size="9.3" font-weight="bold" text-anchor="end" fill="#000">12</text>
<line x1="339.4" y1="269.9" x2="342.4" y2="269.9" stroke="#000" stroke-width="1.2"/>
<text x="336.79999999999995" y="273.3" font-size="9.3" font-weight="bold" text-anchor="end" fill="#000">9</text>
<line x1="339.4" y1="304.1" x2="342.4" y2="304.1" stroke="#000" stroke-width="1.2"/>
<text x="336.79999999999995" y="307.5" font-size="9.3" font-weight="bold" text-anchor="end" fill="#000">6</text>
<line x1="339.4" y1="338.3" x2="342.4" y2="338.3" stroke="#000" stroke-width="1.2"/>
<text x="336.79999999999995" y="341.7" font-size="9.3" font-weight="bold" text-anchor="end" fill="#000">3</text>
<line x1="339.4" y1="372.5" x2="342.4" y2="372.5" stroke="#000" stroke-width="1.2"/>
<text x="336.79999999999995" y="375.9" font-size="9.3" font-weight="bold" text-anchor="end" fill="#000">0</text>
<line x1="379.5" y1="372.5" x2="379.5" y2="376.5" stroke="#000" stroke-width="1.2"/>
<line x1="453.3" y1="372.5" x2="453.3" y2="376.5" stroke="#000" stroke-width="1.2"/>
<text x="379.3" y="384.3" font-size="9.3" font-weight="bold" text-anchor="middle" fill="#000">Normal</text>
<text x="453.4" y="384.3" font-size="9.3" font-weight="bold" text-anchor="middle" fill="#000">Tumor</text>
<text x="415.7" y="397.1" font-size="9.5" font-weight="bold" text-anchor="middle" fill="#000">TCGA STAD samples</text>
<text x="348.8" y="238.7" font-size="9.45" font-weight="normal" style="stroke:none"><tspan font-style="italic">P</tspan> &lt; 0.0001</text>
<text x="316" y="298.8" font-size="9.4" font-weight="bold" text-anchor="middle" transform="rotate(-90 316 298.8)">Expression of <tspan font-style="italic">LGR5</tspan> log2 (RSEM)</text>
<line x1="379.5" y1="274.9" x2="453.3" y2="290.4" stroke="#111" stroke-width="0.75"/>
<line x1="379.5" y1="277.4" x2="453.3" y2="283.6" stroke="#111" stroke-width="0.75"/>
<line x1="379.5" y1="283.8" x2="453.3" y2="269.9" stroke="#111" stroke-width="0.75"/>
<line x1="379.5" y1="285.9" x2="453.3" y2="274.5" stroke="#111" stroke-width="0.75"/>
<line x1="379.5" y1="290.4" x2="453.3" y2="240.3" stroke="#111" stroke-width="0.75"/>
<line x1="379.5" y1="292.8" x2="453.3" y2="368.5" stroke="#111" stroke-width="0.75"/>
<line x1="379.5" y1="295.4" x2="453.3" y2="271.0" stroke="#111" stroke-width="0.75"/>
<line x1="379.5" y1="297.3" x2="453.3" y2="265.9" stroke="#111" stroke-width="0.75"/>
<line x1="379.5" y1="299.2" x2="453.3" y2="366.7" stroke="#111" stroke-width="0.75"/>
<line x1="379.5" y1="304.3" x2="453.3" y2="279.0" stroke="#111" stroke-width="0.75"/>
<line x1="379.5" y1="311.5" x2="453.3" y2="309.8" stroke="#111" stroke-width="0.75"/>
<line x1="379.5" y1="312.5" x2="453.3" y2="268.8" stroke="#111" stroke-width="0.75"/>
<line x1="379.5" y1="318.9" x2="453.3" y2="291.6" stroke="#111" stroke-width="0.75"/>
<line x1="379.5" y1="326.9" x2="453.3" y2="333.3" stroke="#111" stroke-width="0.75"/>
<line x1="379.5" y1="328.7" x2="453.3" y2="304.1" stroke="#111" stroke-width="0.75"/>
<line x1="379.5" y1="332.6" x2="453.3" y2="242.3" stroke="#111" stroke-width="0.75"/>
<line x1="379.5" y1="334.7" x2="453.3" y2="276.7" stroke="#111" stroke-width="0.75"/>
<line x1="379.5" y1="340.8" x2="453.3" y2="281.3" stroke="#111" stroke-width="0.75"/>
<line x1="379.5" y1="346.6" x2="453.3" y2="267.6" stroke="#111" stroke-width="0.75"/>
<line x1="379.5" y1="349.2" x2="453.3" y2="249.9" stroke="#111" stroke-width="0.75"/>
<line x1="379.5" y1="352.6" x2="453.3" y2="251.8" stroke="#111" stroke-width="0.75"/>
<line x1="379.5" y1="354.4" x2="453.3" y2="256.9" stroke="#111" stroke-width="0.75"/>
<line x1="379.5" y1="362.6" x2="453.3" y2="300.7" stroke="#111" stroke-width="0.75"/>
<line x1="379.5" y1="371.0" x2="453.3" y2="307.5" stroke="#111" stroke-width="0.75"/>
<line x1="379.5" y1="293.8" x2="453.3" y2="272.8" stroke="#111" stroke-width="0.75"/>
<line x1="379.5" y1="287.0" x2="453.3" y2="277.9" stroke="#111" stroke-width="0.75"/>
<line x1="379.5" y1="301.8" x2="453.3" y2="297.9" stroke="#111" stroke-width="0.75"/>
<line x1="379.5" y1="312.1" x2="453.3" y2="305.2" stroke="#111" stroke-width="0.75"/>
<line x1="379.5" y1="328.0" x2="453.3" y2="302.4" stroke="#111" stroke-width="0.75"/>
<line x1="379.5" y1="296.1" x2="453.3" y2="281.9" stroke="#111" stroke-width="0.75"/>
<line x1="379.5" y1="292.7" x2="453.3" y2="275.6" stroke="#111" stroke-width="0.75"/>
<circle cx="379.5" cy="274.9" r="1.9"/>
<circle cx="379.5" cy="277.4" r="1.9"/>
<circle cx="379.5" cy="283.8" r="1.9"/>
<circle cx="379.5" cy="285.9" r="1.9"/>
<circle cx="379.5" cy="290.4" r="1.9"/>
<circle cx="379.5" cy="292.8" r="1.9"/>
<circle cx="379.5" cy="295.4" r="1.9"/>
<circle cx="379.5" cy="297.3" r="1.9"/>
<circle cx="379.5" cy="299.2" r="1.9"/>
<circle cx="379.5" cy="304.3" r="1.9"/>
<circle cx="379.5" cy="311.5" r="1.9"/>
<circle cx="379.5" cy="312.5" r="1.9"/>
<circle cx="379.5" cy="318.9" r="1.9"/>
<circle cx="379.5" cy="326.9" r="1.9"/>
<circle cx="379.5" cy="328.7" r="1.9"/>
<circle cx="379.5" cy="332.6" r="1.9"/>
<circle cx="379.5" cy="334.7" r="1.9"/>
<circle cx="379.5" cy="340.8" r="1.9"/>
<circle cx="379.5" cy="346.6" r="1.9"/>
<circle cx="379.5" cy="349.2" r="1.9"/>
<circle cx="379.5" cy="352.6" r="1.9"/>
<circle cx="379.5" cy="354.4" r="1.9"/>
<circle cx="379.5" cy="362.6" r="1.9"/>
<circle cx="379.5" cy="371.0" r="1.9"/>
<circle cx="379.5" cy="293.8" r="1.9"/>
<circle cx="379.5" cy="287.0" r="1.9"/>
<circle cx="379.5" cy="301.8" r="1.9"/>
<circle cx="379.5" cy="312.1" r="1.9"/>
<circle cx="379.5" cy="328.0" r="1.9"/>
<circle cx="379.5" cy="296.1" r="1.9"/>
<circle cx="379.5" cy="292.7" r="1.9"/>
<circle cx="453.3" cy="290.4" r="1.9"/>
<circle cx="453.3" cy="283.6" r="1.9"/>
<circle cx="453.3" cy="269.9" r="1.9"/>
<circle cx="453.3" cy="274.5" r="1.9"/>
<circle cx="453.3" cy="240.3" r="1.9"/>
<circle cx="453.3" cy="368.5" r="1.9"/>
<circle cx="453.3" cy="271.0" r="1.9"/>
<circle cx="453.3" cy="265.9" r="1.9"/>
<circle cx="453.3" cy="366.7" r="1.9"/>
<circle cx="453.3" cy="279.0" r="1.9"/>
<circle cx="453.3" cy="309.8" r="1.9"/>
<circle cx="453.3" cy="268.8" r="1.9"/>
<circle cx="453.3" cy="291.6" r="1.9"/>
<circle cx="453.3" cy="333.3" r="1.9"/>
<circle cx="453.3" cy="304.1" r="1.9"/>
<circle cx="453.3" cy="242.3" r="1.9"/>
<circle cx="453.3" cy="276.7" r="1.9"/>
<circle cx="453.3" cy="281.3" r="1.9"/>
<circle cx="453.3" cy="267.6" r="1.9"/>
<circle cx="453.3" cy="249.9" r="1.9"/>
<circle cx="453.3" cy="251.8" r="1.9"/>
<circle cx="453.3" cy="256.9" r="1.9"/>
<circle cx="453.3" cy="300.7" r="1.9"/>
<circle cx="453.3" cy="307.5" r="1.9"/>
<circle cx="453.3" cy="272.8" r="1.9"/>
<circle cx="453.3" cy="277.9" r="1.9"/>
<circle cx="453.3" cy="297.9" r="1.9"/>
<circle cx="453.3" cy="305.2" r="1.9"/>
<circle cx="453.3" cy="302.4" r="1.9"/>
<circle cx="453.3" cy="281.9" r="1.9"/>
<circle cx="453.3" cy="275.6" r="1.9"/>
<defs><filter id="bl" x="-20%" y="-40%" width="140%" height="180%"><feGaussianBlur stdDeviation="1.1"/></filter><filter id="bl2" x="-20%" y="-40%" width="140%" height="180%"><feGaussianBlur stdDeviation="0.8"/></filter></defs>
<rect x="40.6" y="441.6" width="108.4" height="25.69999999999999" fill="#fff" stroke="#222" stroke-width="1.2"/>
<rect x="154.2" y="441.6" width="69.0" height="25.69999999999999" fill="#fff" stroke="#222" stroke-width="1.2"/>
<rect x="40.6" y="473.4" width="108.4" height="28.80000000000001" fill="#fff" stroke="#222" stroke-width="1.2"/>
<rect x="154.2" y="473.4" width="69.0" height="28.80000000000001" fill="#fff" stroke="#222" stroke-width="1.2"/>
<text x="56.2" y="436.6" font-size="10.8" font-weight="bold" text-anchor="middle" fill="#000">1</text>
<text x="82.7" y="436.6" font-size="10.8" font-weight="bold" text-anchor="middle" fill="#000">2</text>
<text x="107.6" y="436.6" font-size="10.8" font-weight="bold" text-anchor="middle" fill="#000">3</text>
<text x="136" y="436.6" font-size="10.8" font-weight="bold" text-anchor="middle" fill="#000">4</text>
<text x="180" y="436.6" font-size="10.8" font-weight="bold" text-anchor="middle" fill="#000">5</text>
<text x="209" y="436.6" font-size="10.8" font-weight="bold" text-anchor="middle" fill="#000">6</text>
<text x="39.6" y="462" font-size="11" font-weight="bold" text-anchor="end" fill="#000">100-</text>
<text x="39.6" y="490.4" font-size="11" font-weight="bold" text-anchor="end" fill="#000">37-</text>
<text x="227.0" y="459.7" font-size="11.3" font-weight="bold" text-anchor="start" fill="#000">LGR5</text>
<text x="227.4" y="496.5" font-size="11.1" font-weight="bold" text-anchor="start" fill="#000">Actin</text>
<clipPath id="c1"><rect x="41.2" y="442.2" width="107.2" height="24.5"/></clipPath>
<clipPath id="c2"><rect x="154.8" y="442.2" width="67.8" height="24.5"/></clipPath>
<clipPath id="c3"><rect x="41.2" y="474" width="107.2" height="27.6"/></clipPath>
<clipPath id="c4"><rect x="154.8" y="474" width="67.8" height="27.6"/></clipPath>
<g clip-path="url(#c1)">
<path d="M57.2 450.7h0.9v0.9h-0.9zM59.8 452.9h0.9v0.9h-0.9zM59.0 452.6h0.9v0.9h-0.9zM47.9 447.6h0.9v0.9h-0.9zM62.1 449.6h0.9v0.9h-0.9zM61.5 443.7h0.9v0.9h-0.9zM54.8 445.2h0.9v0.9h-0.9zM55.9 448.8h0.9v0.9h-0.9zM47.7 444.9h0.9v0.9h-0.9zM51.8 452.6h0.9v0.9h-0.9zM59.4 444.3h0.9v0.9h-0.9zM59.9 444.0h0.9v0.9h-0.9zM57.1 443.9h0.9v0.9h-0.9zM47.5 452.1h0.9v0.9h-0.9zM50.7 444.9h0.9v0.9h-0.9zM62.7 452.1h0.9v0.9h-0.9zM52.0 453.1h0.9v0.9h-0.9zM55.9 450.0h0.9v0.9h-0.9zM50.7 452.9h0.9v0.9h-0.9zM58.2 453.1h0.9v0.9h-0.9zM61.4 445.8h0.9v0.9h-0.9zM53.1 444.3h0.9v0.9h-0.9zM49.8 443.2h0.9v0.9h-0.9zM52.2 449.1h0.9v0.9h-0.9zM47.6 450.0h0.9v0.9h-0.9zM52.7 445.9h0.9v0.9h-0.9zM60.2 447.8h0.9v0.9h-0.9zM52.4 447.8h0.9v0.9h-0.9zM58.4 443.1h0.9v0.9h-0.9zM62.6 442.8h0.9v0.9h-0.9zM59.1 451.8h0.9v0.9h-0.9zM47.8 451.2h0.9v0.9h-0.9zM53.2 448.9h0.9v0.9h-0.9zM47.6 443.0h0.9v0.9h-0.9zM50.3 453.0h0.9v0.9h-0.9zM50.5 450.8h0.9v0.9h-0.9zM61.9 452.9h0.9v0.9h-0.9zM52.8 446.4h0.9v0.9h-0.9zM55.6 451.0h0.9v0.9h-0.9zM49.2 450.7h0.9v0.9h-0.9zM59.9 452.0h0.9v0.9h-0.9zM48.1 452.9h0.9v0.9h-0.9zM48.9 446.2h0.9v0.9h-0.9zM57.0 452.6h0.9v0.9h-0.9zM52.8 452.7h0.9v0.9h-0.9zM55.9 445.9h0.9v0.9h-0.9zM52.4 444.5h0.9v0.9h-0.9zM48.7 444.1h0.9v0.9h-0.9zM58.2 453.5h0.9v0.9h-0.9zM50.0 443.0h0.9v0.9h-0.9zM62.8 448.4h0.9v0.9h-0.9zM53.8 445.1h0.9v0.9h-0.9zM56.7 451.6h0.9v0.9h-0.9zM54.6 447.1h0.9v0.9h-0.9zM48.4 452.6h0.9v0.9h-0.9zM48.0 447.9h0.9v0.9h-0.9zM60.5 443.9h0.9v0.9h-0.9zM58.8 452.9h0.9v0.9h-0.9zM57.3 451.2h0.9v0.9h-0.9zM49.2 447.3h0.9v0.9h-0.9z" fill="#777" fill-opacity="0.5"/>
<rect x="48" y="443" width="15" height="12" fill="#999" fill-opacity="0.25" filter="url(#bl)"/>
<rect x="45.4" y="454.3" width="19.2" height="11.3" rx="4.5" ry="4.5" fill="#000" filter="url(#bl)"/>
<rect x="98.0" y="452.0" width="20.3" height="13.6" rx="5" ry="5" fill="#000" filter="url(#bl)"/>
<rect x="128" y="465" width="17" height="2" fill="#aaa" fill-opacity="0.4" filter="url(#bl2)"/>
<rect x="80" y="458" width="6" height="3" fill="#bbb" fill-opacity="0.3" filter="url(#bl2)"/>
</g><g clip-path="url(#c2)">
<rect x="167.3" y="446" width="23.5" height="18" rx="8" ry="8" fill="#000" filter="url(#bl)"/>
</g><g clip-path="url(#c3)">
<rect x="43.2" y="485.0" width="22.8" height="9.6" rx="4.5" ry="4.5" fill="#000" filter="url(#bl)"/>
<rect x="62" y="483.8" width="30.4" height="9.6" rx="4.5" ry="4.5" fill="#000" filter="url(#bl)"/>
<rect x="88" y="481.6" width="29.8" height="7.2" rx="3.4" ry="3.4" fill="#000" filter="url(#bl)"/>
<rect x="123.2" y="479.3" width="23.2" height="6.0" rx="2.9" ry="2.9" fill="#000" filter="url(#bl2)"/>
</g><g clip-path="url(#c4)">
<rect x="163" y="485.3" width="21.7" height="6.0" rx="3" ry="3" fill="#000" filter="url(#bl2)"/>
<rect x="192.6" y="484.3" width="21.7" height="7.4" rx="3.5" ry="3.5" fill="#000" filter="url(#bl2)"/>
</g>
<text x="40.3" y="522.4" font-size="11.4" font-weight="bold" text-anchor="start" fill="#000">1: LoVo</text>
<text x="132" y="522.4" font-size="11.4" font-weight="bold" text-anchor="start" fill="#000">4: HCT15</text>
<text x="40.3" y="536.1" font-size="11.4" font-weight="bold" text-anchor="start" fill="#000">2: LoVo-shLGR5</text>
<text x="132" y="536.1" font-size="11.4" font-weight="bold" text-anchor="start" fill="#000">5: 293T-hLGR5</text>
<text x="40.3" y="549.8" font-size="11.4" font-weight="bold" text-anchor="start" fill="#000">3: AGS</text>
<text x="132" y="549.8" font-size="11.4" font-weight="bold" text-anchor="start" fill="#000">6: 293T-vector</text>
<line x1="345.8" y1="432" x2="345.8" y2="547.9" stroke="#000" stroke-width="1.3"/>
<line x1="345.15000000000003" y1="547.6" x2="462.8" y2="547.6" stroke="#000" stroke-width="1.3"/>
<line x1="342.40000000000003" y1="432.5799999999999" x2="345.8" y2="432.5799999999999" stroke="#000" stroke-width="1.2"/>
<text x="341.0" y="436.0" font-size="9.8" font-weight="bold" text-anchor="end" fill="#000">12</text>
<line x1="342.40000000000003" y1="470.81999999999994" x2="345.8" y2="470.81999999999994" stroke="#000" stroke-width="1.2"/>
<text x="341.0" y="474.2" font-size="9.8" font-weight="bold" text-anchor="end" fill="#000">8</text>
<line x1="342.40000000000003" y1="509.05999999999995" x2="345.8" y2="509.05999999999995" stroke="#000" stroke-width="1.2"/>
<text x="341.0" y="512.5" font-size="9.8" font-weight="bold" text-anchor="end" fill="#000">4</text>
<line x1="342.40000000000003" y1="547.3" x2="345.8" y2="547.3" stroke="#000" stroke-width="1.2"/>
<text x="341.0" y="550.7" font-size="9.8" font-weight="bold" text-anchor="end" fill="#000">0</text>
<line x1="365.3" y1="547.6" x2="365.3" y2="550.6" stroke="#000" stroke-width="1.2"/>
<text x="365" y="559.8" font-size="9.7" font-weight="bold" text-anchor="middle" fill="#000">LoVo</text>
<line x1="404.1" y1="547.6" x2="404.1" y2="550.6" stroke="#000" stroke-width="1.2"/>
<text x="403.8" y="559.8" font-size="9.7" font-weight="bold" text-anchor="middle" fill="#000">AGS</text>
<line x1="442.8" y1="547.6" x2="442.8" y2="550.6" stroke="#000" stroke-width="1.2"/>
<text x="442.5" y="559.8" font-size="9.7" font-weight="bold" text-anchor="middle" fill="#000">HCT15</text>
<text x="402.5" y="581.3" font-size="9.5" font-weight="bold" text-anchor="middle" fill="#000">Cancer cell line</text>
<text x="316.4" y="489.5" font-size="9.5" font-weight="bold" text-anchor="middle" transform="rotate(-90 316.4 489.5)">Log2 RMA-norm. <tspan font-style="italic">LGR5</tspan> expression</text>
<line x1="346.2" y1="514.6" x2="462.3" y2="514.6" stroke="#000" stroke-width="1.8" stroke-dasharray="4.7 3.8" stroke-dashoffset="-1.2"/>
<text x="348.2" y="523.8" font-size="9.7" font-weight="normal" text-anchor="start" fill="#222" style="stroke:none">Baseline</text>
<line x1="352" y1="451.2" x2="378.8" y2="451.2" stroke="#000" stroke-width="1.2"/>
<circle cx="365" cy="451.2" r="3.4"/>
<line x1="391" y1="446.8" x2="417" y2="446.8" stroke="#000" stroke-width="1.2"/>
<rect x="400.4" y="443.3" width="7" height="7"/>
<line x1="429.5" y1="508.2" x2="455.5" y2="508.2" stroke="#000" stroke-width="1.2"/>
<path d="M442.5 505 L445.8 511.4 L439.2 511.4 Z"/>
</svg>
</body></html>
